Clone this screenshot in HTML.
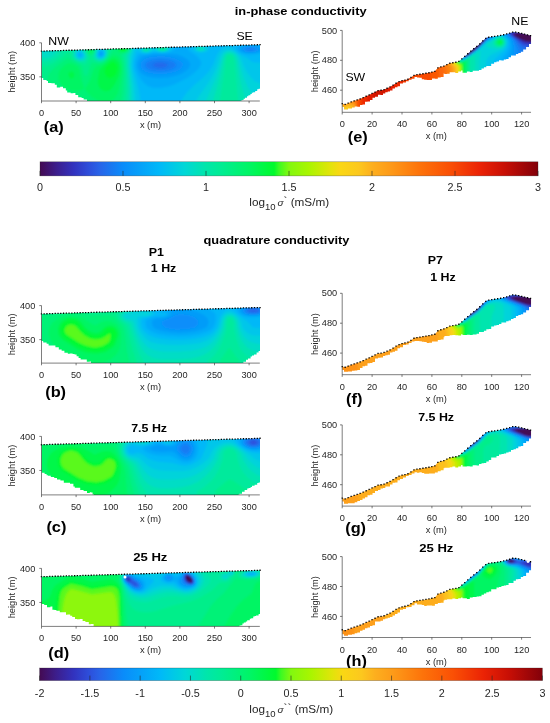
<!DOCTYPE html><html><head><meta charset="utf-8"><title>conductivity</title><style>html,body{margin:0;padding:0;background:#fff}svg{display:block}</style></head><body><svg width="550" height="723" viewBox="0 0 550 723" font-family="'Liberation Sans', sans-serif">
<rect width="550" height="723" fill="#fff"/>
<defs><filter id="blur" x="-5%" y="-5%" width="110%" height="110%"><feGaussianBlur stdDeviation="0.8"/></filter></defs>
<clipPath id="cpa"><polygon points="0.0,8.3 218.6,1.9 218.6,45.0 218.6,46.0 217.2,46.0 217.2,46.5 215.8,46.5 215.8,48.1 213.8,48.1 213.8,49.5 211.8,49.5 211.8,49.9 210.4,49.9 210.4,51.2 209.0,51.2 209.0,52.4 207.0,52.4 207.0,53.5 205.6,53.5 205.6,55.0 203.6,55.0 203.6,56.0 202.2,56.0 202.2,57.3 200.8,57.3 200.8,57.6 199.4,57.6 199.4,58.2 196.8,58.2 196.8,58.2 49.0,58.2 45.6,58.2 45.6,56.8 42.2,56.8 42.2,55.3 40.2,55.3 40.2,54.4 36.8,54.4 36.8,52.3 34.0,52.3 34.0,50.1 32.0,50.1 32.0,50.5 29.2,50.5 29.2,49.6 25.8,49.6 25.8,47.8 24.4,47.8 24.4,45.4 21.6,45.4 21.6,43.9 18.8,43.9 18.8,44.6 15.4,44.6 15.4,42.0 13.4,42.0 13.4,40.5 10.0,40.5 10.0,40.3 6.6,40.3 6.6,38.1 5.2,38.1 5.2,37.1 1.8,37.1 1.8,35.3 0.0,35.3 0.0,34.4 0.0,34.5"/></clipPath>
<g transform="translate(41.4 42.8)" clip-path="url(#cpa)">
<g filter="url(#blur)"><rect x="-7.0" y="-7.0" width="233.5" height="73.0" fill="#226beb"/>
<path fill="#167cf3" d="M-2 -2 221.5 -2 221.5 61 -2 61ZM113.5 20.5 111.6 22 112.1 23.5 116.5 25 119.5 25.1 122.5 24.7 125.6 23.5 126.2 22 124.3 20.5 121 19.8 116.5 19.8Z"/>
<path fill="#0a8efa" d="M-2 -2 221.5 -2 221.5 61 -2 61ZM110.5 17.4 106.3 19 104.6 20.5 104 22 104.2 23.5 105.3 25 107.8 26.5 110.5 27.4 116.5 28.3 124 28 130 26.5 132.9 25 134.3 23.5 134.6 22 133.9 20.5 131.9 19 127.9 17.5 119.5 16.4 115 16.6ZM206.5 5.3 205.7 5.5 204.8 7 206.5 7.5 209.5 7.8 213.1 7 212.3 5.5 209.5 5.1Z"/>
<path fill="#069cf9" d="M-2 -2 221.5 -2 221.5 61 -2 61ZM110.5 14.2 106 15.3 103 16.7 100.4 19 99.3 22 99.9 25 101.5 26.9 104.5 28.9 107.5 30 112 30.8 118 31.2 128.5 30.3 136 27.9 139 26.1 141.1 23.5 141.4 22 141 20.5 139.8 19 137.5 17.4 133 15.5 128.5 14.4 122.5 13.7 116.5 13.6ZM206.5 3.9 203.5 4.5 201.4 5.5 201.1 7 203.5 8.5 206.5 9.1 211 9.1 214.5 8.5 217.1 7 216.7 5.5 214 4.4 211 3.8Z"/>
<path fill="#03aaf9" d="M-2 -2 221.5 -2 221.5 61 -2 61ZM59.5 9.5 58.8 10 58.4 11.5 59.5 12.3 60.7 11.5 60.5 10ZM112 11.3 101.5 13.5 100 14.4 98.4 16 97 18.1 96.2 20.5 96 22 96.4 25 98.5 28.9 101.5 31.6 106 33.8 112 35 118 35.3 125.5 34.8 131.5 33.7 137.5 31.9 142.5 29.5 146.5 26.5 148.6 23.5 148.8 20.5 146.8 17.5 143.5 15 137.5 12.3 131.5 11.1ZM200.5 3.8 198.1 5.5 198.1 7 200.5 8.9 205 10.1 211 10.3 215.5 9.7 219 8.5 220.6 7 220.3 5.5 218.5 4.2 214 2.9 206.5 2.6Z"/>
<path fill="#00b8f8" d="M-2 -2 104.3 -2 103.9 -0.5 105.8 1 112 1.5 118 0.2 122.5 0 125.5 0.3 130 1.6 132.9 4 133.2 5.5 132.5 7 130.2 8.5 127 9.7 122.5 10.3 113.5 9.6 106 11.2 98.5 11.3 97 12.1 96.4 13 94.3 17.5 93.5 22 94.2 26.5 97 32.7 100 37.3 103 40.8 106 43 110.5 44.7 115 45.2 119.5 44.9 125.5 43.9 131.5 42.1 137.5 39.5 146.5 34.6 151.8 31 156.7 26.5 158.8 23.5 159.9 20.5 159.7 19 157 14.7 155.3 13 148.5 8.5 145 4.3 138.2 -2 221.5 -2 221.5 3.1 218.5 2 214 1.3 203.5 1.3 197.5 2.7 195.4 4 194.8 5.5 195.5 7 197.5 8.8 200.5 10.5 203.5 11.3 208 11.9 212.5 11.7 218.5 10.8 221.5 9.8 221.5 61 -2 61ZM38.5 10.8 37.6 11.5 38 13 38.5 13.3 39.7 13 40 11.5ZM59.5 7.9 58 8.8 57.1 11.5 58 13.3 59.5 13.7 61.2 13 62 11.5 62 10 61 8.3Z"/>
<path fill="#00c6ea" d="M-2 -2 95.7 -2 95.5 2.6 96 4 97 4.6 103 3 106 3 112 3.9 118 2 121 1.7 124 2 127 2.8 129 4 130 5.5 129.5 7 128.5 7.8 124 9.4 119.5 9.6 113.5 8.4 112 8.4 107.5 10 104.5 10.5 101.5 10.1 97 8.3 95.5 8.2 94.2 10 92 17.5 91.6 23.5 92.5 28.7 95 37 97.6 47.5 99.6 61 -2 61ZM37 9.7 35.9 11.5 36.1 13 37 14.1 38.5 14.8 40.3 14.5 41.5 13 41.5 11.5 40.5 10 38.5 9.2ZM59.5 6.8 58 7.4 57.1 8.5 56.1 11.5 56.5 13.1 58 14.5 59.5 14.8 61 14.3 62.3 13 63 11.5 63 10 62.5 8.4 61 7ZM155.5 2.5 157 2 160 1.7 164.5 2.6 166.9 4 167.8 5.5 167.4 7 165.8 8.5 163 9.6 158.5 9.8 155.5 9.3 152.5 7.5 152 7 151.7 5.5 152.6 4ZM184 4 187 3.5 190 4.7 197.5 10.6 206.8 16 211 19.1 214 19.7 221.5 19.6 221.5 61 138.8 61 140.6 56.5 146.1 49 152.1 43 163 33.6 167.5 28.6 172 21.6 174.5 14.5 176.7 10 181 5.5Z"/>
<path fill="#00d3db" d="M-2 -2 92.1 -2 92.5 7 90.7 13 89.8 22 90.2 26.5 93.2 44.5 94.3 61 -2 61ZM37 8.3 35.2 10 34.8 11.5 35.5 14 37 15.4 38.5 15.9 40 15.9 41.5 15.1 42.7 13 42.5 11.5 41.8 10 40 8.3 38.5 8ZM58 6.2 56.2 8.5 55.4 11.5 55.5 13 56.5 14.6 58 15.5 59.5 15.6 61 15.2 62.5 14 63.8 11.5 63.9 10 63.5 8.5 62.5 6.9 61 5.9 59.5 5.7ZM103.6 4 107.5 4.2 111.4 5.5 111.8 7 107.5 9.3 104.5 9.7 101.5 9.2 100 8.5 98.9 7 100 5.2 101.5 4.4ZM114.9 4 118 2.9 122.5 2.7 125.5 3.3 127 4 128.3 5.5 127.9 7 125.5 8.3 122.5 9 119.5 9 112.5 7 112.3 5.5ZM155.2 4 158.5 3.1 161.5 3.3 163.4 4 164.9 5.5 164.5 7 163 8.1 160 8.8 158.5 8.8 155.5 8 154 7 153.7 5.5ZM182.9 8.5 185.5 7.3 188.5 7.1 190 7.4 193 9 196.4 11.5 197.9 13 199.7 16 202 22.3 205 28.4 209.5 34.8 212.5 37.6 215.5 39.4 221.5 41.1 221.5 61 153.9 61 154.7 58 157.4 53.5 166 41.4 170.5 34.3 175 25 179 13 181.1 10Z"/>
<path fill="#00ddc5" d="M-2 -2 89.2 -2 89.3 1 90.9 5.5 90.9 7 88.6 13 88.2 22 90.7 44.5 91.2 61 -2 61ZM2.5 6.1 1.4 7 1.5 8.5 2.5 9.2 4 9.6 5.5 9.3 7 8.5 7.2 7 5.5 5.8 4 5.6ZM38.5 6.9 37 7.2 34.9 8.5 34 10 33.7 11.5 33.9 13 34.6 14.5 36.3 16 38.5 16.9 40 16.9 41.5 16.5 43 15.1 43.7 13 43.5 11.5 41.5 8.1 40 7.2ZM58 4.9 56 7 54.6 11.5 54.5 13 55.2 14.5 56.5 15.7 58 16.4 59.5 16.5 61 16.1 63.1 14.5 64.1 13 64.8 10 64 7.3 62.5 5.6 61 4.8 59.5 4.6ZM116.8 4 119.5 3.3 122.5 3.3 125.2 4 127 5.5 126.5 7 125.5 7.6 122.5 8.4 119.5 8.4 115.3 7 114.7 5.5ZM158.2 4 161.5 4.4 163 5.4 162.7 7 161.5 7.6 158.5 7.9 155.7 7 155.2 5.5 157 4.3ZM101.4 5.5 103 4.8 106 4.7 108.6 5.5 109.6 7 107.5 8.7 106 9.1 103 8.9 101.8 8.5 100.5 7ZM183.9 10 187 8.7 190 8.9 193 10.5 195.6 13 197 16 202 33.7 206.5 44.5 211 51.9 214 55.4 217 58 218.7 61 163.4 61 164.3 58 175 34.1 178 25.2 180.8 14.5 182.3 11.5Z"/>
<path fill="#00e5ae" d="M-2 -2 86.4 -2 86.8 1 89 4 89.7 5.5 89.8 7 89.2 8.5 87 11.5 86.5 14.5 86.7 23.5 88.5 46 88.6 61 -2 61 -2 14.1 2.5 15 5.5 14.9 8.5 14.1 10.8 13 13 11.3 14.5 9.3 15.2 7 15.1 5.5 14.4 4 11.5 1.5 8.5 0.4 5.5 -0 1 0.3 -2 1.3ZM35.5 6.5 33.4 8.5 32.7 10 32.8 13 33.4 14.5 35.5 16.6 38.5 17.9 41.5 17.8 43 17 44.5 14.8 44.8 13 43 8.5 41.5 6.7 40 6 37 5.9ZM58 3.6 56.5 4.5 55.7 5.5 53.6 13 54 14.5 55.3 16 58 17.3 59.5 17.3 62.5 16.1 64.1 14.5 65.4 11.5 65.5 8.5 64.1 5.5 62.5 4.2 61 3.5ZM118.9 4 122.5 3.9 124 4.3 125.8 5.5 125.2 7 124 7.5 119.5 7.9 116.7 7 116.1 5.5ZM103.3 5.5 106.5 5.5 108.1 7 106 8.4 104.2 8.5 103 8.1 101.8 7ZM156.8 5.5 158.5 4.9 160 5 161.4 5.5 160.4 7 158.5 7.2 157.9 7ZM184.7 11.5 187 10.2 190 10.4 192.1 11.5 194.3 14.5 195.2 17.5 197.5 30.8 199.8 41.5 205.3 61 170.7 61 178.5 34 182.4 16 183.5 13Z"/>
<path fill="#00ea9c" d="M15.4 -2 83 -2 83.2 -0.5 84 1 87.8 4 88.7 5.5 88.9 7 88 8.7 85.1 11.5 84.5 13 86.3 44.5 86 61 -2 61 -2 18.6 4 18.9 8.5 17.9 14.5 14.9 18.3 11.5 19.4 10 20.6 7 20.6 4 19 0.8ZM35.5 4.8 32.6 7 31.6 8.5 31.2 11.5 32.2 14.5 34 16.7 37 18.5 40 19.2 43 18.8 44.6 17.5 46 14.5 45.5 11.5 43 6.5 41.5 5 40 4.4 37 4.4ZM58 2 56.5 2.6 54.9 4 54 8.5 52.5 13 52.7 14.5 55 17.1 56.5 17.9 59.5 18.2 62.5 17 65 14.5 66.4 11.5 66.6 8.5 65.7 5.5 64 3.4 61 1.9ZM117.4 5.5 119.5 4.6 121 4.4 122.5 4.6 124.6 5.5 123.8 7 121 7.5 118.2 7ZM103.3 7 104.5 6.4 106.5 7 104.5 7.5ZM185.9 13 187 12.2 188.5 11.9 190 12.3 191.1 13 192.1 14.5 193 17.4 196.9 61 177.8 61 183 28 184.2 17.5 185 14.5Z"/>
<path fill="#00ee8a" d="M27 -2 76.8 -2 77.3 -0.5 78.8 1 85 3 86.6 4 87.8 5.5 88 7 86.5 9.1 82.8 11.5 82.3 13 83.5 21.2 84.1 31 83.9 49 82.9 61 -2 61 -2 23.9 1 23.9 5.5 23.1 11.5 20.6 18.7 16 26.5 9.4 28 9.8 30.4 14.5 33.1 17.5 37 19.7 41.5 21.3 43 21.7 44.5 21.4 48.1 16 48.6 14.5 45.7 10 43.9 4 43 3 41.5 2.2 38.5 1.6 35.5 1.8 31 3.3 29.5 3.3ZM58 -1 55 0.1 52.8 2.5 53.2 8.5 52 11.4 50.8 13 50.5 14.5 51.3 16 53 17.5 55 18.6 58 19.3 61 18.7 62.5 18 64.9 16 66.1 14.5 67.5 11.5 68.1 7 67.4 4 65.5 1.2 64 0.1 61 -1ZM119 5.5 121 5.1 123.1 5.5 122.5 6.2 121 6.9 119.5 6.2ZM188 17.5 188.5 16.6 189.1 17.5 188.5 20.2Z"/>
<path fill="#00f277" d="M75.9 4 79 3 83.5 3.2 86.5 4.9 87 5.5 87.2 7 85 9.3 79.4 11.5 79.4 13 80.6 16 81.7 20.5 82.3 29.5 80.8 50.5 80 55 78.3 61 15.2 61 11.5 56.1 9.2 52 7.3 47.5 5.8 41.5 5.7 37 6.2 34 7.6 31 11.4 26.5 16.7 22 23.5 17.1 26.5 15.8 28 16 34 19.8 38.1 22 39.8 23.5 40.6 25 42.3 31 43 32.5 44.5 33.3 46 32.2 46.6 31 49 22.6 50.2 20.5 52 20 58 20.6 61 19.9 62.5 19.1 66.2 16 71.5 7.7 73.5 5.5ZM46.7 5.5 47.5 4.8 49 4.4 50.5 4.8 52 6.3 52.4 8.5 51.7 10 50.5 11.3 49 11.6 47.5 10.8 46.9 10 46.1 8.5 46 7Z"/>
<path fill="#00f563" d="M79.7 4 82 3.7 85 4.6 86.1 5.5 86.4 7 85 8.5 82 9.5 79 9.5 77.5 8.9 76.2 7 76.8 5.5ZM47.8 7 49 6.4 50.5 6.7 51.1 8.5 50.5 9.7 49 10.1 47.5 8.7ZM71 13 73 12.4 76 13.7 77.5 15.3 78.8 17.5 80.1 22 80.6 26.5 80.3 31 77.2 47.5 76 51.2 74.8 53.5 73 55.9 71.5 57.1 68.5 58.6 65.5 59.2 62.5 59.2 59.5 58.6 55 56.9 49.7 53.5 46.5 50.5 43.3 46 43.8 44.5 44.5 44.3 47.5 39.6 49.3 35.5 52 27.4 53.3 25 55.2 23.5 61 21.3 64 19.5 70 13.6ZM27.6 20.5 29.5 20.5 33.3 22 35.8 23.5 37.1 25 38.2 28 40.5 38.5 42.7 44.5 42.6 46 39.7 47.5 37 48.1 34 48.3 29.5 47.8 26.5 46.9 23.5 45.3 20.8 43 18.6 40 17.3 37 16.8 34 17.5 29.5 19.2 26.5 22 23.6 25 21.5Z"/>
<path fill="#00f74a" d="M78.6 5.5 80.5 4.6 83.5 4.7 85.2 5.5 85.5 7 83.5 8.5 80.5 8.7 79 8.1 78 7ZM71.3 16 73 16 74.5 16.6 76 17.9 77.6 20.5 78.3 23.5 78.5 26.5 77.5 32.4 76 36.2 73 42.1 70 46.2 67 48.1 65.5 48.4 62.5 48.1 59.1 46 57.9 44.5 56.6 41.5 56.4 37 57.5 29.5 58.6 26.5 59.6 25 68.5 17.5ZM27.8 29.5 29.5 28.6 31 28.7 32.2 29.5 32.9 31 33.1 32.5 32.5 34.7 31 35.7 29.5 35.6 28 34.6 26.9 32.5 27 31Z"/>
<path fill="#00fa31" d="M80.3 5.5 82 5.1 83.5 5.3 84.4 7 82 7.9 80.5 7.6 79.5 7ZM68.3 20.5 70 19.6 71.5 19.3 73 19.8 75.1 22 75.9 25 75.6 28 74.5 31 73 32.9 71.5 34.2 68.5 35.1 67 34.9 65.6 34 64.3 32.5 63.6 31 63.2 28 64 25 66.4 22Z"/>
<path fill="#5af91a" d="M81.9 7 82.2 7Z"/>
</g></g>
<path d="M40.8 50.4h1.3v1.3h-1.3zM43.5 50.4h1.3v1.3h-1.3zM46.3 50.3h1.3v1.3h-1.3zM49.1 50.2h1.3v1.3h-1.3zM51.8 50.1h1.3v1.3h-1.3zM54.6 50.0h1.3v1.3h-1.3zM57.4 50.0h1.3v1.3h-1.3zM60.1 49.9h1.3v1.3h-1.3zM62.9 49.8h1.3v1.3h-1.3zM65.7 49.7h1.3v1.3h-1.3zM68.4 49.6h1.3v1.3h-1.3zM71.2 49.6h1.3v1.3h-1.3zM74.0 49.5h1.3v1.3h-1.3zM76.7 49.4h1.3v1.3h-1.3zM79.5 49.3h1.3v1.3h-1.3zM82.3 49.2h1.3v1.3h-1.3zM85.0 49.2h1.3v1.3h-1.3zM87.8 49.1h1.3v1.3h-1.3zM90.6 49.0h1.3v1.3h-1.3zM93.3 48.9h1.3v1.3h-1.3zM96.1 48.8h1.3v1.3h-1.3zM98.9 48.7h1.3v1.3h-1.3zM101.6 48.7h1.3v1.3h-1.3zM104.4 48.6h1.3v1.3h-1.3zM107.2 48.5h1.3v1.3h-1.3zM109.9 48.4h1.3v1.3h-1.3zM112.7 48.3h1.3v1.3h-1.3zM115.5 48.3h1.3v1.3h-1.3zM118.3 48.2h1.3v1.3h-1.3zM121.0 48.1h1.3v1.3h-1.3zM123.8 48.0h1.3v1.3h-1.3zM126.6 47.9h1.3v1.3h-1.3zM129.3 47.9h1.3v1.3h-1.3zM132.1 47.8h1.3v1.3h-1.3zM134.9 47.7h1.3v1.3h-1.3zM137.6 47.6h1.3v1.3h-1.3zM140.4 47.5h1.3v1.3h-1.3zM143.2 47.5h1.3v1.3h-1.3zM145.9 47.4h1.3v1.3h-1.3zM148.7 47.3h1.3v1.3h-1.3zM151.5 47.2h1.3v1.3h-1.3zM154.2 47.1h1.3v1.3h-1.3zM157.0 47.0h1.3v1.3h-1.3zM159.8 47.0h1.3v1.3h-1.3zM162.5 46.9h1.3v1.3h-1.3zM165.3 46.8h1.3v1.3h-1.3zM168.1 46.7h1.3v1.3h-1.3zM170.8 46.6h1.3v1.3h-1.3zM173.6 46.6h1.3v1.3h-1.3zM176.4 46.5h1.3v1.3h-1.3zM179.1 46.4h1.3v1.3h-1.3zM181.9 46.3h1.3v1.3h-1.3zM184.7 46.2h1.3v1.3h-1.3zM187.5 46.2h1.3v1.3h-1.3zM190.2 46.1h1.3v1.3h-1.3zM193.0 46.0h1.3v1.3h-1.3zM195.8 45.9h1.3v1.3h-1.3zM198.5 45.8h1.3v1.3h-1.3zM201.3 45.8h1.3v1.3h-1.3zM204.1 45.7h1.3v1.3h-1.3zM206.8 45.6h1.3v1.3h-1.3zM209.6 45.5h1.3v1.3h-1.3zM212.4 45.4h1.3v1.3h-1.3zM215.1 45.3h1.3v1.3h-1.3zM217.9 45.3h1.3v1.3h-1.3zM220.7 45.2h1.3v1.3h-1.3zM223.4 45.1h1.3v1.3h-1.3zM226.2 45.0h1.3v1.3h-1.3zM229.0 44.9h1.3v1.3h-1.3zM231.7 44.9h1.3v1.3h-1.3zM234.5 44.8h1.3v1.3h-1.3zM237.3 44.7h1.3v1.3h-1.3zM240.0 44.6h1.3v1.3h-1.3zM242.8 44.5h1.3v1.3h-1.3zM245.6 44.5h1.3v1.3h-1.3zM248.3 44.4h1.3v1.3h-1.3zM251.1 44.3h1.3v1.3h-1.3zM253.9 44.2h1.3v1.3h-1.3zM256.7 44.1h1.3v1.3h-1.3zM259.4 44.0h1.3v1.3h-1.3z" fill="#000"/>
<clipPath id="cpb"><polygon points="0.0,8.3 218.6,1.9 218.6,45.0 218.6,45.4 217.2,45.4 217.2,47.0 215.2,47.0 215.2,49.0 212.6,49.0 212.6,49.9 210.6,49.9 210.6,50.9 209.2,50.9 209.2,52.8 206.6,52.8 206.6,54.2 204.6,54.2 204.6,56.2 202.0,56.2 202.0,57.5 199.4,57.5 199.4,57.5 53.0,57.5 49.6,57.5 49.6,55.8 48.2,55.8 48.2,56.1 45.4,56.1 45.4,53.9 42.6,53.9 42.6,53.8 39.2,53.8 39.2,52.4 37.2,52.4 37.2,50.6 35.2,50.6 35.2,48.9 33.2,48.9 33.2,48.3 31.2,48.3 31.2,48.0 28.4,48.0 28.4,48.1 26.4,48.1 26.4,47.2 23.0,47.2 23.0,45.2 20.2,45.2 20.2,44.0 17.4,44.0 17.4,41.7 14.0,41.7 14.0,39.8 10.6,39.8 10.6,39.8 7.2,39.8 7.2,38.2 5.2,38.2 5.2,36.9 1.8,36.9 1.8,35.5 0.0,35.5 0.0,35.1 0.0,34.5"/></clipPath>
<g transform="translate(41.4 305.6)" clip-path="url(#cpb)">
<g filter="url(#blur)"><rect x="-7.0" y="-7.0" width="233.5" height="73.0" fill="#2a5be3"/>
<path fill="#2568ea" d="M-2 -2 221.5 -2 221.5 61 -2 61ZM211 4.8 210.3 5.5 213.7 5.5 212.5 4.6Z"/>
<path fill="#167cf3" d="M-2 -2 221.5 -2 221.5 61 -2 61ZM208 3.4 206.7 4 206.2 5.5 209.1 7 214 7.1 215.5 6.8 217.7 5.5 217.2 4 214 2.9 211 2.8Z"/>
<path fill="#0a8efa" d="M-2 -2 221.5 -2 221.5 61 -2 61ZM208 2.1 206.5 2.5 203.9 4 203.6 5.5 205.2 7 206.5 7.5 209.5 8.1 214 8.2 218.5 7.1 220.3 5.5 220 4 217 2.4 212.5 1.7Z"/>
<path fill="#069cf9" d="M-2 -2 221.5 -2 221.5 3.1 220 2.2 217 1.3 214 0.8 209.5 0.9 206.5 1.4 203.2 2.5 201.4 4 201.1 5.5 202.4 7 203.5 7.6 206.5 8.7 209.5 9.2 214 9.2 217 8.8 221.5 7 221.5 61 -2 61ZM134.5 9.5 128.5 12.6 123.5 14.5 120.9 16 120.4 17.5 120.8 19 122 20.5 123.9 22 130 23.3 134.5 23.8 145 23.6 153.3 22 155.3 20.5 156.5 19 157 17.5 156.9 16 156.2 14.5 154 12.5 151 10.9 146.5 9.5 142 8.9 137.5 8.8Z"/>
<path fill="#03aaf9" d="M-2 -2 221.5 -2 221.5 1.3 218.5 0.3 214 -0.2 206.5 0.1 203 1 199.9 2.5 198.6 4 198.5 5.5 199.5 7 201.8 8.5 205 9.6 208 10.1 215.5 10.1 221.5 8.8 221.5 61 -2 61ZM131.5 3.7 130 4.4 129.4 5.5 129.2 8.5 128.1 10 127 10.7 122.5 12.3 114.8 13 111.5 14.5 110.6 16 110.5 17.5 111.4 20.5 112.2 22 115 23.4 121 25.3 128.5 26.7 137.5 27.3 145 27 154 25.7 161.4 23.5 164.9 22 166.6 19 167.1 16 166 13 163 9.9 157 6.6 151 4.6 145 3.6 137.5 3.2Z"/>
<path fill="#00b8f8" d="M-2 -2 113.3 -2 111.6 -0.5 110.7 1 111.4 2.5 113.8 4 116.5 5.1 124 6.5 124.9 7 125.7 8.5 124.5 10 122.5 10.7 113.5 10.9 106 13.5 104.5 14.5 104.1 16 104.3 19 105 22 107.5 24.2 110.5 26.1 116.5 28.3 125.5 29.9 137.5 30.6 148 30.1 158.5 28.4 166 25.9 169 24.3 171.9 22 173.5 17.9 174.2 14.5 174.5 11.5 174 8.5 172 6.3 167.5 3.2 157 -2 221.5 -2 221.5 -0.6 217 -1.5 212.5 -1.8 208 -1.6 203.5 -0.9 197.9 1 195.9 2.5 195.1 4 195.5 5.5 197.5 7.7 200.5 9.7 203.5 10.9 208 11.6 212.5 11.8 221.5 10.7 221.5 61 -2 61Z"/>
<path fill="#00c6ea" d="M-2 -2 101 -2 101 1 101.8 2.5 111 5.5 113.3 7 113.6 8.5 109 10.7 101.5 12.6 100.6 13 100 13.8 99.5 16 100.4 22 103 25.6 107.5 29.4 113.5 32 121 33.5 131.5 34.4 142 34.4 152.5 33.5 161.5 31.7 167.5 29.4 172 26.3 175.6 22 178.7 11.5 181 7.8 184 5 185.5 4.3 188.5 4.2 190 4.6 193 6.5 206 16 209.1 19 211.4 22 221.5 22.1 221.5 61 -2 61Z"/>
<path fill="#00d3db" d="M-2 -2 96 -2 96.2 2.5 97 4.1 100 5.1 106 5.6 109.7 7 109.9 8.5 107.5 9.7 104.5 10.3 98.5 10.7 96.7 11.5 95.7 13 96.9 22 100.2 28 104.5 32.9 107.5 35.1 110.5 36.6 116.5 38.2 125.5 39.1 137.5 39.3 149.5 38.6 158.5 37.3 166 34.7 169 33 172 30.6 176.5 25.2 178.2 22 180.5 13 182.2 10 185.5 7.6 187 7.2 190 7.3 191.5 7.8 194.5 9.7 197.8 13 200 17.5 201.2 22 203.5 25 206.5 27.6 209.5 29.1 212.5 29.8 221.5 30.4 221.5 61 -2 61Z"/>
<path fill="#00ddc5" d="M-2 -2 92.3 -2 92.3 2.5 91.8 5.5 91 6.5 90.1 7 84 8.5 82.8 10 83 11.5 85 13.2 90.6 14.5 92.2 16 93.4 19 94 22 97 29.1 100 34.4 104.5 39.8 107.5 42.1 112 44.2 116.5 45.2 122.5 45.8 137.5 45.9 151 44.9 160 43 166 40.3 172 35.6 176.8 29.5 180.4 22 181.9 14.5 183.3 11.5 184.7 10 187 8.9 190 8.9 193 10.4 195.4 13 196.7 16 198 22 199 24.5 202 29.8 205 33.3 208 35.6 212.5 37.5 217 38.3 221.5 38.6 221.5 61 -2 61ZM102.8 8.5 104.5 7.9 105.1 8.5Z"/>
<path fill="#00e5ae" d="M-2 -2 88.9 -2 88.9 1 88 3.4 86.5 4.7 82.3 7 80.8 8.5 80.4 10 80.6 11.5 81.5 13 83.4 14.5 88 16.5 89.5 17.7 90.3 19 93.8 29.5 97 36.9 100 42.5 103 46.6 106 49.4 110.5 51.9 115 53.1 121 53.8 136 53.9 149.5 52.9 158.5 50.9 163 49 166 47.2 172 42.1 175 38.3 178 33.5 181.7 25 182.6 22 183.4 16 184.4 13 185.5 11.5 187 10.6 188.5 10.3 190 10.5 191.9 11.5 194 14.5 194.9 17.5 195.4 22 197.5 29 200.5 35.4 203.5 39.5 206.5 42.3 211 44.8 215.5 46.1 221.5 46.8 221.5 61 -2 61Z"/>
<path fill="#00ea9c" d="M-2 -2 85.1 -2 84.9 1 84.1 2.5 79.1 7 78.3 8.5 78.6 11.5 80.5 14.3 86.5 18.6 87.8 20.5 95.5 43.5 98.5 49.8 102.2 55 102.8 61 -2 61ZM187.1 13 188.5 12.5 190 12.8 191.6 14.5 192.5 17.5 192.5 22 193.3 26.5 195.1 34 197.5 40.3 200.5 45.4 205 49.9 209.5 52.4 215.5 54.2 221.5 55 221.5 61 165.7 61 166.6 55 170.5 52 173.5 48.9 176.7 44.5 179.9 38.5 183.8 28 185.2 22 185.5 16.3Z"/>
<path fill="#00ee8a" d="M-2 -2 79 -2 78.7 1 75.3 7 75.2 8.5 76.3 11.5 78.2 14.5 83.3 19 85.2 22 86.6 26.5 91.2 44.5 95.1 55 95.7 61 -2 61ZM187 43 188.5 42.7 190 44.2 194.1 50.5 198.2 55 197.5 58 197.8 61 178.6 61 178.9 58 178.3 55Z"/>
<path fill="#00f277" d="M24.5 5.5 28 4.8 32.5 5 43.7 8.5 52 9.7 68.5 9.7 71.5 10.7 73 11.9 80.8 20.5 82.8 25 84 31 85.7 46 87.8 55 88.2 61 -2 61 -2 10.2 7 9.7 15.7 8.5Z"/>
<path fill="#00f563" d="M28.3 10 34 10.3 40 11.9 43 13.3 50.5 18.3 53.5 19.7 55 19.3 59.5 16.6 62.5 15.7 65.5 15.2 70 15.8 74.5 18.5 76.5 20.5 78.4 23.5 79.4 26.5 79.9 31 78.8 40 78.1 43 76.8 46 74.5 49.4 68.5 54.4 64 56.4 55 58.2 46 57.4 41.5 56.4 31 52.3 17.5 43.8 14.5 41.5 10.5 37 8.3 32.5 7.5 29.5 7.3 26.5 8.1 22 10.8 17.5 14.4 14.5 20.6 11.5 25 10.4Z"/>
<path fill="#00f74a" d="M25.3 13 28 12.4 31 12.3 35.5 13.5 39.3 16 44.5 22.3 47.4 25 50.5 26.5 53.5 27.3 56.5 27.1 58 26.5 59.5 25.4 62.6 22 65.5 20.3 67 19.9 70 19.9 73 21.2 74.5 22.5 76 24.6 77.1 28 76.9 31 73.5 40 71.5 42.2 64 46.6 55 48.5 44.5 47.1 35.5 43.7 20.7 34 18.2 31 16.9 28 16.5 23.5 17.8 19 20.5 15.7 23.5 13.7Z"/>
<path fill="#00fa31" d="M27.6 14.5 31.8 14.5 35.5 15.9 37.5 17.5 43 24.4 46 27.2 50.5 29.4 53.5 30.1 56.5 29.8 59.5 28.7 61 27.7 64 24.1 65.5 23 68.5 22.1 71.5 22.9 73 24 74.5 26.2 74.9 29.5 73 35.5 71.6 38.5 70 40.2 62.5 44.3 55 45.7 46 44.7 37 41.3 23.5 32.8 21.6 31 19.8 28 19.2 23.5 20.5 19.3 21.9 17.5 23.5 16.1Z"/>
<path fill="#5af91a" d="M25.4 20.5 28 19.2 29.5 19 32.5 19.6 34 20.5 39.3 26.5 43 29.9 49 33.2 53.5 34 59.5 33.3 62.5 32 68.5 27.8 69.3 29.5 68 35.5 66.7 37 62 40 56.3 41.5 53.5 41.8 50.7 41.5 44.3 40 37.4 37 25 28.7 23.6 26.5 23.4 25 23.5 23.4Z"/>
</g></g>
<path d="M40.8 313.3h1.3v1.3h-1.3zM43.5 313.2h1.3v1.3h-1.3zM46.3 313.1h1.3v1.3h-1.3zM49.1 313.0h1.3v1.3h-1.3zM51.8 312.9h1.3v1.3h-1.3zM54.6 312.8h1.3v1.3h-1.3zM57.4 312.8h1.3v1.3h-1.3zM60.1 312.7h1.3v1.3h-1.3zM62.9 312.6h1.3v1.3h-1.3zM65.7 312.5h1.3v1.3h-1.3zM68.4 312.4h1.3v1.3h-1.3zM71.2 312.4h1.3v1.3h-1.3zM74.0 312.3h1.3v1.3h-1.3zM76.7 312.2h1.3v1.3h-1.3zM79.5 312.1h1.3v1.3h-1.3zM82.3 312.0h1.3v1.3h-1.3zM85.0 312.0h1.3v1.3h-1.3zM87.8 311.9h1.3v1.3h-1.3zM90.6 311.8h1.3v1.3h-1.3zM93.3 311.7h1.3v1.3h-1.3zM96.1 311.6h1.3v1.3h-1.3zM98.9 311.5h1.3v1.3h-1.3zM101.6 311.5h1.3v1.3h-1.3zM104.4 311.4h1.3v1.3h-1.3zM107.2 311.3h1.3v1.3h-1.3zM109.9 311.2h1.3v1.3h-1.3zM112.7 311.1h1.3v1.3h-1.3zM115.5 311.1h1.3v1.3h-1.3zM118.3 311.0h1.3v1.3h-1.3zM121.0 310.9h1.3v1.3h-1.3zM123.8 310.8h1.3v1.3h-1.3zM126.6 310.7h1.3v1.3h-1.3zM129.3 310.7h1.3v1.3h-1.3zM132.1 310.6h1.3v1.3h-1.3zM134.9 310.5h1.3v1.3h-1.3zM137.6 310.4h1.3v1.3h-1.3zM140.4 310.3h1.3v1.3h-1.3zM143.2 310.3h1.3v1.3h-1.3zM145.9 310.2h1.3v1.3h-1.3zM148.7 310.1h1.3v1.3h-1.3zM151.5 310.0h1.3v1.3h-1.3zM154.2 309.9h1.3v1.3h-1.3zM157.0 309.8h1.3v1.3h-1.3zM159.8 309.8h1.3v1.3h-1.3zM162.5 309.7h1.3v1.3h-1.3zM165.3 309.6h1.3v1.3h-1.3zM168.1 309.5h1.3v1.3h-1.3zM170.8 309.4h1.3v1.3h-1.3zM173.6 309.4h1.3v1.3h-1.3zM176.4 309.3h1.3v1.3h-1.3zM179.1 309.2h1.3v1.3h-1.3zM181.9 309.1h1.3v1.3h-1.3zM184.7 309.0h1.3v1.3h-1.3zM187.5 309.0h1.3v1.3h-1.3zM190.2 308.9h1.3v1.3h-1.3zM193.0 308.8h1.3v1.3h-1.3zM195.8 308.7h1.3v1.3h-1.3zM198.5 308.6h1.3v1.3h-1.3zM201.3 308.6h1.3v1.3h-1.3zM204.1 308.5h1.3v1.3h-1.3zM206.8 308.4h1.3v1.3h-1.3zM209.6 308.3h1.3v1.3h-1.3zM212.4 308.2h1.3v1.3h-1.3zM215.1 308.1h1.3v1.3h-1.3zM217.9 308.1h1.3v1.3h-1.3zM220.7 308.0h1.3v1.3h-1.3zM223.4 307.9h1.3v1.3h-1.3zM226.2 307.8h1.3v1.3h-1.3zM229.0 307.7h1.3v1.3h-1.3zM231.7 307.7h1.3v1.3h-1.3zM234.5 307.6h1.3v1.3h-1.3zM237.3 307.5h1.3v1.3h-1.3zM240.0 307.4h1.3v1.3h-1.3zM242.8 307.3h1.3v1.3h-1.3zM245.6 307.3h1.3v1.3h-1.3zM248.3 307.2h1.3v1.3h-1.3zM251.1 307.1h1.3v1.3h-1.3zM253.9 307.0h1.3v1.3h-1.3zM256.7 306.9h1.3v1.3h-1.3zM259.4 306.9h1.3v1.3h-1.3z" fill="#000"/>
<clipPath id="cpc"><polygon points="0.0,8.3 218.6,1.9 218.6,45.0 218.6,46.0 217.2,46.0 217.2,46.7 215.8,46.7 215.8,48.3 213.2,48.3 213.2,49.4 210.6,49.4 210.6,50.7 209.2,50.7 209.2,51.7 207.2,51.7 207.2,52.2 205.8,52.2 205.8,53.7 203.2,53.7 203.2,55.3 200.6,55.3 200.6,57.4 198.0,57.4 198.0,58.4 196.6,58.4 196.6,58.5 194.0,58.5 194.0,58.5 54.0,58.5 52.6,58.5 52.6,58.0 51.2,58.0 51.2,56.1 49.8,56.1 49.8,55.9 48.4,55.9 48.4,56.6 45.6,56.6 45.6,54.5 42.2,54.5 42.2,53.6 38.8,53.6 38.8,51.3 35.4,51.3 35.4,51.3 33.4,51.3 33.4,50.2 32.0,50.2 32.0,47.4 28.6,47.4 28.6,46.4 25.2,46.4 25.2,46.4 22.4,46.4 22.4,44.2 19.0,44.2 19.0,43.2 15.6,43.2 15.6,41.7 12.8,41.7 12.8,40.7 11.4,40.7 11.4,40.6 9.4,40.6 9.4,39.3 6.6,39.3 6.6,38.8 5.2,38.8 5.2,37.5 3.2,37.5 3.2,36.4 0.4,36.4 0.4,34.3 0.0,34.3 0.0,34.7 0.0,34.5"/></clipPath>
<g transform="translate(41.4 436.4)" clip-path="url(#cpc)">
<g filter="url(#blur)"><rect x="-7.0" y="-7.0" width="233.5" height="73.0" fill="#2d51dd"/>
<path fill="#2568ea" d="M-2 -2 221.5 -2 221.5 61 -2 61ZM211 4 208.4 5.5 208.9 7 211 7.9 212.5 8 215.3 7 215.5 5.3 213 4Z"/>
<path fill="#167cf3" d="M-2 -2 221.5 -2 221.5 61 -2 61ZM211 2.4 209.5 2.7 206.7 4 205.7 5.5 206.1 7 207.8 8.5 211 9.4 214 9.3 216.6 8.5 218.2 7 218.4 5.5 217 3.8 214 2.6Z"/>
<path fill="#0a8efa" d="M-2 -2 221.5 -2 221.5 61 -2 61ZM142 8.2 139.8 10 139.2 11.5 139.3 13 140 14.5 142 16.6 143.5 17.3 145 17.4 146.5 16.8 148.4 14.5 148.6 11.5 148.1 10 146.5 8.3 145 7.8ZM206.5 2.3 204.2 4 203.6 5.5 203.9 7 205.2 8.5 208 10 211 10.6 215.5 10.4 218.5 9.1 220.5 7 220.6 5.5 219.9 4 217 2.1 214 1.3 211 1.2Z"/>
<path fill="#069cf9" d="M-2 -2 221.5 -2 221.5 3.2 220 2 217 0.7 214 0.1 209.5 0.2 206.5 0.8 203.5 2.4 202 4 201.6 5.5 202 7 203.5 8.8 206.5 10.6 209.5 11.5 212.5 11.9 216 11.5 218.5 10.8 221.5 8.8 221.5 61 -2 61ZM142 5.3 139 7 135.9 10 135.2 11.5 135.5 13 137.5 16 140.6 19 143.5 20.3 146.5 20.1 148.4 19 150.6 16 151.3 13 150.9 10 149.5 7.4 147 5.5 145 4.9Z"/>
<path fill="#03aaf9" d="M-2 -2 221.5 -2 221.5 1 218.5 -0.3 214 -1.2 209.5 -1.2 205 -0.2 202.5 1 200.6 2.5 199.7 4 199.5 5.5 200 7 202 9.2 205 11.2 208 12.4 212.5 13.1 215.5 12.9 218.5 12.3 221.5 11 221.5 61 -2 61ZM142 2.3 139 3.7 134.5 7.8 131.5 9.5 128.5 9.9 125.5 9.9 116.5 8.3 114.8 8.5 110.5 10 108.3 11.5 109 13.1 111.9 14.5 115 15.2 121 15.5 128.5 15 131.5 15.4 134.5 17.2 139.9 22 143.5 23.1 146.5 23 149.5 21.8 151.9 19 153.6 14.5 153.5 10 152.4 7 149.5 3.7 146.5 2.3 145 2Z"/>
<path fill="#00b8f8" d="M-2 -2 142 -2 139 -1 135.6 1 134.4 2.5 133.7 5.5 132.4 7 130 8.1 127 8.5 124 8.3 121 7.5 118 6.1 116.5 5.8 115 6 110.5 8.2 104.9 10 102 11.5 102.1 13 103.6 14.5 106 16 110.5 17.9 116.5 19 127 19.3 130 19.8 139 24.7 142 25.6 145 25.8 149.5 24.8 153.8 22 156.1 17.5 157 13 156.5 8.5 154.5 4 151 0.1 148 -1.6 146.5 -2 204.8 -2 200.5 -0.2 198.7 1 197.5 2.5 196.9 4 197.1 5.5 199.2 8.5 203.5 11.7 209.5 14.1 215.5 14.5 218.5 14.1 221.5 13.2 221.5 61 -2 61ZM219.1 -2 221.5 -2 221.5 -1.2Z"/>
<path fill="#00c6ea" d="M-2 -2 105.2 -2 105 -0.5 105.9 1 110.5 3.5 111 4 111.4 5.5 109 7.4 103 9.1 98.5 9.6 92.5 8.7 89.5 8.8 87.6 10 86.5 11.7 86.5 14.5 88 16.5 91 17.5 95.5 16.6 98.5 16.6 102.9 19 106.4 22 113.5 24.6 118 25.4 130 26.3 139 28.7 143.5 29.3 148 28.7 151 27.7 155.5 25.2 159.8 22 165.5 8.5 165.8 5.5 165.3 -2 196.1 -2 194.1 -0.5 193 1 192.5 2.5 192.9 4 195.3 7 200.5 11.2 205 14 211 16.2 217 17 221.5 16.4 221.5 61 -2 61ZM122 4 124 3.1 127 3 130 3.9 130.8 5.5 128.5 7.2 124 7.1 121.3 5.5Z"/>
<path fill="#00d3db" d="M-2 -2 97.5 -2 97.3 1 98.5 2 106 3.5 107.5 4.3 108.6 5.5 107.1 7 103 7.9 98.5 7.9 92.5 6.1 91 6.1 88 7 86.1 8.5 84.6 11.5 84.6 14.5 86.2 17.5 88 19 89.5 19.6 97 21.2 100.4 23.5 106 29 110.5 31.9 116.5 33.7 124 34.4 142 34.6 148 33.7 152.5 32.2 160 28 167.2 22 170.8 14.5 173.1 11.5 175 9.9 178 8 182.5 6.3 187 5.9 190 6.4 193 7.6 196 9.5 203.5 15.1 209.5 19 212.6 22 217 24.1 221.5 25.5 221.5 61 -2 61Z"/>
<path fill="#00ddc5" d="M-2 -2 93 -2 91.9 1 90.7 2.5 85.1 7 83.5 9.6 82.9 13 83.5 15.9 84.3 17.5 85.5 19 88 21 93.7 23.5 96.1 25 98.6 28 103 34.7 107.5 39.1 110.5 40.9 113.5 42 118 42.8 122.5 43.2 131.5 43.2 140.5 42.4 148 40.8 154 38.5 161.5 33.8 167.5 28.2 172.4 22 174.5 16 176.3 13 177.7 11.5 181 9.5 184 8.5 188.5 8.2 191.5 8.9 196 11.3 201.4 16 204.1 19 205.7 22 211 27.4 215.5 30.5 221.5 33.2 221.5 61 -2 61ZM98.4 5.5 101.5 4.6 103 4.7 105.4 5.5 103 6.6 101.5 6.7Z"/>
<path fill="#00e5ae" d="M-2 -2 89.4 -2 88 1 83.5 6.2 82 9.1 81.6 11.5 81.7 14.5 83.5 18.8 86.5 22.1 91.1 25 94.4 28 101.5 41.8 106 47.1 109 49.2 112 50.5 116.5 51.6 121 52 131.5 51.9 142 50.6 149.5 48.5 157 45 164.5 39.4 170.5 32.6 173.5 28.1 176.5 22.6 177.7 17.5 180.1 13 181.9 11.5 184 10.5 187 9.9 190 10.2 193 11.3 194.5 12.3 198.2 16 200 19 200.8 22 203.5 26.7 206.5 30.9 209.4 34 215.5 38.5 221.5 41.2 221.5 61 -2 61Z"/>
<path fill="#00ea9c" d="M-2 -2 86.2 -2 84.8 1 81.8 5.5 80.4 8.5 80.1 13 80.7 16 82 19 83.5 21.2 89.3 26.5 91.8 29.5 98.5 46.3 101.5 51.5 104.4 55 105 61 -2 61ZM184.6 13 187 12.2 188.5 12.1 191.5 12.9 193.4 14.5 195.3 17.5 195.9 22 198.4 29.5 200.6 34 203.5 38.2 206.6 41.5 211 45 215.5 47.5 221.5 49.9 221.5 61 154.3 61 155.2 58 155.5 55 161.5 51.5 166 48 170.5 43.5 174.3 38.5 177.6 32.5 180 26.5 181.5 22 181.5 19 182.2 16 183 14.5Z"/>
<path fill="#00ee8a" d="M-2 -2 82.6 -2 78.6 7 78.3 10 78.8 14.5 79.7 17.5 81.2 20.5 87.4 28 89.9 32.5 94 46.3 97.5 55 98 61 -2 61ZM185.3 44.5 187 43.5 188.5 43.2 190 43.4 193 45 202 51.6 208.3 55 207.5 58 208.2 61 173.7 61 174.1 58 173.1 55Z"/>
<path fill="#00f277" d="M-2 -2 77.5 -2 75.4 7 75.5 8.5 77 14.5 78.7 19 85.4 29.5 86.6 32.5 90 47.5 92.2 55 92.7 61 -2 61Z"/>
<path fill="#00f563" d="M24.6 1 31 0.4 37 1.6 41.5 3.6 45.9 7 50.8 8.5 53.5 8.8 65.5 8.6 68.5 9 71.5 10.1 73 11.7 74.5 14.4 81.6 28 82.8 31 83.6 35.5 86.2 61 -2 61 -2 9.1 8.1 8.5 13 7.1 19 3Z"/>
<path fill="#00f74a" d="M23.2 10 31 9.3 38.5 10.6 44.5 13 53.5 18.4 59.5 15.5 64 14.5 68.5 14.9 71.5 16.6 74.5 19.9 76.9 23.5 78.4 26.5 79.4 31 79 37 77.9 43 76.1 47.5 74.5 50 70 54.7 65.5 57.6 56.5 59.9 52 60.1 43 58.9 32.5 55.2 29.5 53.7 14.5 44.1 10.3 40 8.2 37 6.8 34 5.8 31 5.4 28 5.8 23.5 7.8 19 10.5 16 12.4 14.5 18.1 11.5Z"/>
<path fill="#00fa31" d="M24.4 13 29.5 12 32.5 12.3 35.5 13.2 39.8 16 44.8 22 47.5 24.5 51.6 26.5 53.5 26.9 56.5 26.7 58 26 62.5 21.6 65.5 19.9 68.5 19.6 71.5 20.6 74.7 23.5 76 25.9 76.6 28 76.7 31 73.6 40 71.5 42.5 64 47 55 48.8 46 47.9 35.5 44.1 20.5 34.4 18.8 32.5 17 29.5 16.1 25 16.7 20.5 18.3 17.5 19.6 16 22 14.1Z"/>
<path fill="#5af91a" d="M28.3 14.5 31.1 14.5 35.5 16 37.4 17.5 42.1 23.5 45 26.5 49 28.8 52 29.9 55 30.2 59.5 28.8 61 27.8 65 23.5 67 22.6 68.5 22.5 71.5 23.5 73 25 73.7 26.5 74.3 29.5 73 34.5 71.5 38.1 69.9 40 62.5 44.1 55 45.6 46 44.6 37 41.2 23.3 32.5 21.7 31 19.9 28 19.3 23.5 20.5 19.5 22 17.5 24 16Z"/>
</g></g>
<path d="M40.8 444.1h1.3v1.3h-1.3zM43.5 444.0h1.3v1.3h-1.3zM46.3 443.9h1.3v1.3h-1.3zM49.1 443.8h1.3v1.3h-1.3zM51.8 443.7h1.3v1.3h-1.3zM54.6 443.6h1.3v1.3h-1.3zM57.4 443.6h1.3v1.3h-1.3zM60.1 443.5h1.3v1.3h-1.3zM62.9 443.4h1.3v1.3h-1.3zM65.7 443.3h1.3v1.3h-1.3zM68.4 443.2h1.3v1.3h-1.3zM71.2 443.2h1.3v1.3h-1.3zM74.0 443.1h1.3v1.3h-1.3zM76.7 443.0h1.3v1.3h-1.3zM79.5 442.9h1.3v1.3h-1.3zM82.3 442.8h1.3v1.3h-1.3zM85.0 442.8h1.3v1.3h-1.3zM87.8 442.7h1.3v1.3h-1.3zM90.6 442.6h1.3v1.3h-1.3zM93.3 442.5h1.3v1.3h-1.3zM96.1 442.4h1.3v1.3h-1.3zM98.9 442.3h1.3v1.3h-1.3zM101.6 442.3h1.3v1.3h-1.3zM104.4 442.2h1.3v1.3h-1.3zM107.2 442.1h1.3v1.3h-1.3zM109.9 442.0h1.3v1.3h-1.3zM112.7 441.9h1.3v1.3h-1.3zM115.5 441.9h1.3v1.3h-1.3zM118.3 441.8h1.3v1.3h-1.3zM121.0 441.7h1.3v1.3h-1.3zM123.8 441.6h1.3v1.3h-1.3zM126.6 441.5h1.3v1.3h-1.3zM129.3 441.5h1.3v1.3h-1.3zM132.1 441.4h1.3v1.3h-1.3zM134.9 441.3h1.3v1.3h-1.3zM137.6 441.2h1.3v1.3h-1.3zM140.4 441.1h1.3v1.3h-1.3zM143.2 441.1h1.3v1.3h-1.3zM145.9 441.0h1.3v1.3h-1.3zM148.7 440.9h1.3v1.3h-1.3zM151.5 440.8h1.3v1.3h-1.3zM154.2 440.7h1.3v1.3h-1.3zM157.0 440.6h1.3v1.3h-1.3zM159.8 440.6h1.3v1.3h-1.3zM162.5 440.5h1.3v1.3h-1.3zM165.3 440.4h1.3v1.3h-1.3zM168.1 440.3h1.3v1.3h-1.3zM170.8 440.2h1.3v1.3h-1.3zM173.6 440.2h1.3v1.3h-1.3zM176.4 440.1h1.3v1.3h-1.3zM179.1 440.0h1.3v1.3h-1.3zM181.9 439.9h1.3v1.3h-1.3zM184.7 439.8h1.3v1.3h-1.3zM187.5 439.8h1.3v1.3h-1.3zM190.2 439.7h1.3v1.3h-1.3zM193.0 439.6h1.3v1.3h-1.3zM195.8 439.5h1.3v1.3h-1.3zM198.5 439.4h1.3v1.3h-1.3zM201.3 439.4h1.3v1.3h-1.3zM204.1 439.3h1.3v1.3h-1.3zM206.8 439.2h1.3v1.3h-1.3zM209.6 439.1h1.3v1.3h-1.3zM212.4 439.0h1.3v1.3h-1.3zM215.1 438.9h1.3v1.3h-1.3zM217.9 438.9h1.3v1.3h-1.3zM220.7 438.8h1.3v1.3h-1.3zM223.4 438.7h1.3v1.3h-1.3zM226.2 438.6h1.3v1.3h-1.3zM229.0 438.5h1.3v1.3h-1.3zM231.7 438.5h1.3v1.3h-1.3zM234.5 438.4h1.3v1.3h-1.3zM237.3 438.3h1.3v1.3h-1.3zM240.0 438.2h1.3v1.3h-1.3zM242.8 438.1h1.3v1.3h-1.3zM245.6 438.1h1.3v1.3h-1.3zM248.3 438.0h1.3v1.3h-1.3zM251.1 437.9h1.3v1.3h-1.3zM253.9 437.8h1.3v1.3h-1.3zM256.7 437.7h1.3v1.3h-1.3zM259.4 437.6h1.3v1.3h-1.3z" fill="#000"/>
<clipPath id="cpd"><polygon points="0.0,8.3 218.6,1.9 218.6,45.0 218.6,45.6 217.2,45.6 217.2,47.1 214.6,47.1 214.6,47.5 213.2,47.5 213.2,48.2 211.8,48.2 211.8,49.8 209.8,49.8 209.8,50.4 208.4,50.4 208.4,51.8 205.8,51.8 205.8,53.1 204.4,53.1 204.4,54.0 202.4,54.0 202.4,55.2 201.0,55.2 201.0,56.8 199.0,56.8 199.0,57.3 197.6,57.3 197.6,58.0 195.6,58.0 195.6,58.0 55.0,58.0 52.2,58.0 52.2,55.5 49.4,55.5 49.4,55.8 47.4,55.8 47.4,53.7 44.0,53.7 44.0,52.5 41.2,52.5 41.2,50.6 38.4,50.6 38.4,50.9 35.6,50.9 35.6,50.5 33.6,50.5 33.6,48.5 30.8,48.5 30.8,47.4 28.8,47.4 28.8,46.1 26.0,46.1 26.0,46.4 24.6,46.4 24.6,43.9 21.2,43.9 21.2,43.9 18.4,43.9 18.4,42.4 15.0,42.4 15.0,41.5 13.0,41.5 13.0,41.4 11.0,41.4 11.0,38.2 9.0,38.2 9.0,38.8 5.6,38.8 5.6,36.5 2.8,36.5 2.8,35.7 0.0,35.7 0.0,35.0 0.0,35.0 0.0,35.8 0.0,34.5"/></clipPath>
<g transform="translate(41.4 568.4)" clip-path="url(#cpd)">
<g filter="url(#blur)"><rect x="-7.0" y="-7.0" width="233.5" height="73.0" fill="#440a52"/>
<path fill="#3c1f8e" d="M-2 -2 221.5 -2 221.5 61 -2 61ZM146.5 6.9 145 7.3 144.5 8.5 145 11.5 146.5 13.2 149.5 13.9 150.8 13 150.7 11.5 149.5 9.3Z"/>
<path fill="#352caf" d="M-2 -2 221.5 -2 221.5 61 -2 61ZM86.5 9.9 86.5 10.6ZM145 6.7 144 8.5 144.6 11.5 146.5 13.6 149.7 14.5 151 13.6 151.2 11.5 149.5 8.6 146.5 6.6Z"/>
<path fill="#303dc9" d="M-2 -2 221.5 -2 221.5 61 -2 61ZM85 9.9 85.6 11.5 86.5 12.1 88 11.9 88.4 11.5 88.1 10 86.5 9.1ZM145 6.4 144.1 7 143.5 8.5 144.2 11.5 146.5 14 148 14.7 149.5 15 150.6 14.5 151.6 13 151.5 11.5 149.8 8.5 146.5 6.4Z"/>
<path fill="#2c52dd" d="M-2 -2 221.5 -2 221.5 61 -2 61ZM86.5 8.4 85 9 84.5 10 84.8 11.5 86.5 12.8 88.9 13 89.5 11.5 88.9 10ZM145 6 143.6 7 143.1 8.5 143.8 11.5 145 13.2 148 15.1 149.5 15.3 151 14.8 151.9 13 151.8 11.5 150.1 8.5 148 6.7 146.5 6.1Z"/>
<path fill="#2568ea" d="M-2 -2 221.5 -2 221.5 61 -2 61ZM85 8.3 84 10 84.3 11.5 85 12.4 86.5 13.4 89.4 14.5 93.8 17.5 95.5 17.2 95.9 16 94.9 14.5 91 12 88.2 8.5 86.5 7.9ZM143.5 6.5 142.6 8.5 142.7 10 144.1 13 145.8 14.5 148 15.6 149.5 15.7 151 15.3 151.8 14.5 152.2 13 152.1 11.5 150.4 8.5 148 6.4 146.5 5.8 145 5.7Z"/>
<path fill="#167cf3" d="M-2 -2 221.5 -2 221.5 61 -2 61ZM85 7.8 84.2 8.5 83.6 10 83.9 11.5 85 13 89.5 15.7 92.5 18 95.5 18.8 97 18 97.4 17.5 97.4 16 95.5 13.5 91 10.6 88 7.8 86.5 7.4ZM145 5.3 143.5 5.9 142.6 7 142.2 8.5 142.5 11.5 143.3 13 144.7 14.5 146.5 15.6 149.5 16.1 151 15.8 152.2 14.5 152.6 13 151.8 10 149.5 7.2 148 6.1Z"/>
<path fill="#0a8efa" d="M-2 -2 221.5 -2 221.5 61 -2 61ZM86.5 6.9 85 7.3 83.7 8.5 83.2 10 83.5 11.6 85 13.6 92.6 19 95.5 19.8 98 19 98.8 17.5 98.7 16 97 13.5 92.5 10.7 89.5 8.2 88 7.3ZM143.5 5.3 142 7 141.3 10 141.7 13 142.7 14.5 145 15.8 148 16.6 149.5 16.7 151.5 16 152.8 14.5 153 13 152.2 10 151.2 8.5 149.5 6.8 146.5 5.1 145 4.9Z"/>
<path fill="#069cf9" d="M-2 -2 221.5 -2 221.5 61 -2 61ZM85 6.8 83.5 8.1 82.9 10 83.5 12.4 85 14.1 91 18.9 94 20.3 97 20.6 98.5 20.1 99.7 19 100.2 17.5 100 16 99.3 14.5 98.1 13 88.7 7 86.5 6.4ZM125.5 7.7 124.7 8.5 124.7 10 125.5 10.8 127 11.3 128.5 11 129.6 10 129.6 8.5 128.5 7.6 127 7.2ZM143.5 4.7 142.3 5.5 141.2 7 140 10 139.6 13 140.2 14.5 142 16.2 145 17.2 149.5 17.3 151 17 152.4 16 153.3 14.5 153.5 13 153.3 11.5 151.7 8.5 149.5 6.2 148 5.3 145 4.4Z"/>
<path fill="#03aaf9" d="M-2 -2 221.5 -2 221.5 61 -2 61ZM85 6.3 83.5 7.5 82.5 10 82.7 11.5 83.4 13 85 14.7 91 19.7 94 21.2 97 21.6 98.5 21.4 100.2 20.5 101.4 19 101.7 17.5 101.1 14.5 100 13 97 10.7 92.5 8.6 89.5 6.7 86.5 6ZM125.5 6.5 124.5 7 123.3 8.5 123.2 10 124 11.2 125.5 12.2 127 12.5 128.5 12.3 130.3 11.5 131.4 10 131.2 8.5 130 7.2 128.5 6.4ZM142 4.9 137.8 10 137.2 11.5 138 14.5 139.2 16 142 17.9 145 18.5 149.5 18.1 152.5 16.8 153.9 14.5 153.9 13 153.3 10 152.3 8.5 149.5 5.7 146.5 4.2 143.5 4.1Z"/>
<path fill="#00b8f8" d="M-2 -2 221.5 -2 221.5 61 -2 61ZM86.5 5.5 85 5.8 83.5 6.8 82.4 8.5 82.1 10 83 13 85 15.4 89.5 19.6 94 22.1 98.5 22.5 100.3 22 102.4 20.5 103.3 19 104 16 103.9 14.5 103.3 13 102 11.5 98.5 9.6 89.5 6ZM142 4 136 8.3 134.5 8.9 130 6 127 5.3 125.5 5.5 122.8 7 121.8 8.5 121.6 10 122.5 11.7 125.5 13.4 128.5 13.6 133 12.3 134.5 13.1 136.7 16 138.4 17.5 140.5 18.7 143.5 19.7 148 19.5 152.5 17.8 154.1 16 154.8 13 154 10 152 7 148 4.2 145 3.4ZM208 4.9 206.7 5.5 208 6.2 209.5 6.5 213 5.5 211 4.6Z"/>
<path fill="#00c6ea" d="M-2 -2 221.5 -2 221.5 61 -2 61ZM85 5.2 83.5 6.2 82.1 8.5 81.8 10 82.5 13 85 16.1 89.5 20.6 94 23.1 98.5 23.7 101.5 23.1 103.4 22 112.5 13 112.4 11.5 110 10 105.4 8.5 94 6.3 88 4.8ZM140.5 3.6 137.5 5.1 134.5 6 128.5 4.5 125.5 4.5 124 4.9 120.7 7 118.7 10 118.8 11.5 120.4 13 123.9 14.5 127 15 131.5 15.1 133 15.7 137.8 19 142 20.8 146.5 21.1 149.5 20.3 152.5 18.9 154.1 17.5 155.1 16 155.7 13 155.2 10 154.5 8.5 151.8 5.5 148 3.4 143.5 2.7ZM190 3.9 190 4.4ZM208 3.9 205 5.5 206.6 7 209.5 7.3 212 7 214.6 5.5 212.9 4Z"/>
<path fill="#00d3db" d="M-2 -2 221.5 -2 221.5 61 -2 61ZM140.5 2.2 134.5 3.9 125.5 3.3 116.5 5.7 110.5 5.5 97 4.3 86.5 4.1 85 4.5 82.3 7 81.6 8.5 81.5 11.5 83.5 15.2 88 20.6 91 23 95.5 24.7 100 25.1 103 24.4 110.5 20.1 113.5 18.8 118 17.4 121 17 130 17.5 140.5 21.8 143.5 22.5 146.5 22.5 151 21.1 154 19.3 155.5 17.6 156.9 14.5 157.3 11.5 157 10 155.4 7 154 5.5 151 3.5 145 1.6ZM188.5 3.9 188.5 5.5 190 5.8 190.6 5.5 191 4 190 3.5ZM206.5 3.7 203.6 5.5 204.5 7 206.5 7.6 209.5 7.8 212.5 7.5 214.1 7 216 5.5 215 4 212.5 3.4 209.5 3.3Z"/>
<path fill="#00ddc5" d="M-2 -2 221.5 -2 221.5 61 -2 61ZM139 0.7 133 1.6 125.5 1.6 118 2.2 109 2.2 97 1.6 89.5 2.3 86.5 3 83.5 4.8 82 6.6 81.2 8.5 81.1 11.5 82.4 14.5 88 22.4 92.5 25.4 97 26.7 100 26.9 104.5 26.2 115 22 119.5 20.8 124 20.2 130 20.4 142 23.9 145 24.1 148 23.7 151 22.8 154 21.1 157.6 17.5 159.5 13 159.3 10 158.8 8.5 158 7 155.5 4.3 151 1.7 145 0.3ZM184 6.8 183 7 182.5 7.6 182.5 8.8 184 9.2 185.2 8.5 184.7 7ZM188.5 3.4 187.7 4 187.4 5.5 188.5 6.2 190 6.3 191.5 5.5 191.8 4 191.5 3.7 190 3.1ZM205 3.6 203.9 4 202.2 5.5 202.8 7 206.5 8.2 211 8.2 214 7.6 215.7 7 217.3 5.5 216.6 4 212.5 2.8 208 2.9Z"/>
<path fill="#00e5ae" d="M-2 -2 221.5 -2 221.5 61 -2 61ZM91 -1 86.5 1.3 82.1 5.5 80.7 8.5 80.7 11.5 81.1 13 85 20.5 88 24.9 91 27.2 94 28.4 97 29.2 101.5 29.5 106 29 118 25 125.5 23.6 131.5 23.8 143.5 25.9 149.5 25.3 154 23.3 157.8 20.5 160.5 17.5 162.7 13 162.8 10 162.3 8.5 160.3 5.5 158.8 4 154 0.7 148 -1.3 142 -1.8 131.5 -1.2 97 -1.5ZM187 3.9 185.5 5.3 182.5 5.5 181 6.5 180.3 8.5 181.2 10 182.5 10.7 184 10.8 185.5 10.3 188.2 7 190 6.8 192.2 5.5 192.4 4 191.5 3.2 190 2.7 188.5 2.9ZM208 2.3 203.5 3.4 202.3 4 200.8 5.5 201.2 7 203.5 8.2 208 8.9 212.5 8.5 217 7.1 218.6 5.5 218.1 4 215.5 2.8 212.5 2.2Z"/>
<path fill="#00ea9c" d="M-2 -2 86.3 -2 81.3 5.5 80.1 8.5 79.9 10 80.6 13 85 24 88 28.7 91 31 95.5 32.9 101.5 33.7 106 33.5 109 32.9 119.5 29.4 126 28 131.5 27.7 142 28.5 146.5 28.3 151 27.4 157 24.6 162.5 20.5 167 16 168.7 13 168.9 10 167.6 7 164.8 4 160 0.5 155.2 -2 221.5 -2 221.5 61 -2 61ZM188.5 2.4 185.5 3.9 182.5 4.2 179.7 5.5 178.5 7 178.3 8.5 178.8 10 180.6 11.5 182.5 12.2 185.5 11.8 187 10.8 188.5 8.5 191.5 6.8 192.9 5.5 193 4 191.5 2.6 190 2.1ZM205 2.2 200.5 4 199.1 5.5 199.3 7 201.8 8.5 203.5 9 208 9.5 214 8.9 218.5 7.2 220 5.5 219.7 4 217.1 2.5 215.5 2 211 1.6Z"/>
<path fill="#00ee8a" d="M-2 -2 83.4 -2 79.8 7 79.4 11.5 82.1 19 84 26.5 86.5 32.7 89.5 37.8 91 39.6 94 41.9 98.5 43.4 104.5 43.8 109 43.5 115 42.4 131.5 37 146.5 33.7 152.5 31.8 158.5 29 166 24.8 172 20.5 178 14.7 184 14 187 12.8 188.5 11.5 190.4 8.5 194.2 5.5 194.1 4 192.5 2.5 191.5 1.8 188.5 1.6 185.5 2.6 181 2.7 176.5 3.9 175 3.7 167 -2 221.5 -2 221.5 4.2 219.6 2.5 217 1.6 212.5 1 208 1.1 203.5 1.7 200.5 2.8 198.1 4 196.7 5.5 196.9 7 199 8.6 202 9.6 208 10.2 214 9.6 217 8.8 220.6 7 221.5 5.8 221.5 61 -2 61Z"/>
<path fill="#00f277" d="M-2 -2 81.1 -2 78.8 7 78.4 10 81.4 20.5 84.1 37 86.4 58 86.4 61 -2 61ZM183.1 -2 221.5 -2 221.5 1.9 215.5 0.2 209.5 -0.1 203.5 0.5 196 2.6 194.5 2.3 193 1.4 190 0.3 185.4 -0.5ZM220.8 8.5 221.5 8.1 221.5 61 156.5 61 156.5 58 169.8 37 175 31 182 25 190 15.2 193 10.9 194.5 10.1 203.5 11.2 211 11.1 215.5 10.3Z"/>
<path fill="#00f563" d="M-2 -2 78.2 -2 76.9 10 77.6 13 79.9 19 80.7 23.5 81.8 35.5 82.9 61 -2 61ZM217.7 -2 221.5 -2 221.5 -1.3ZM221 11.5 221.5 11.4 221.5 61 182.7 61 182.7 58 188.5 48 194.5 39.1 197.5 35.5 202 31 210.1 25 213.4 16 214.4 14.5 217.1 13Z"/>
<path fill="#00f74a" d="M27.8 8.5 29.5 7.5 31 7.7 41.5 10.4 50.5 13.3 65.5 11 70 10.7 73 12 76 14.6 77.5 16.4 78.7 19 79.6 23.5 80.3 34 81.1 61 -2 61 -2 32.8 2.5 32.4 5.5 31.3 7 30.1 8.5 27.9 9.9 25 10.5 22 13 18.1 14.5 16.7 22 11.7Z"/>
<path fill="#00fa31" d="M29 13 29.5 12.7 31 13 40 15.1 50.5 18.4 70 15.4 73 16 76 17.6 77.9 20.5 78.8 26.5 79.8 61 12.4 61 12.4 58 15.1 29.5 16.2 23.5 18.1 20.5 20.5 18.1Z"/>
<path fill="#5af91a" d="M28.6 16 29.5 15.5 32.3 16 40 17.9 50.5 21.2 70 18.2 73 18.8 75.6 20.5 76.9 23.5 77.5 27.9 78.5 61 16.4 61 17.9 34 19 25.5 20.4 22 21.7 20.5 23.5 19Z"/>
<path fill="#8df70b" d="M27.8 22 29.5 20.8 31 20.9 36.4 22 50.5 26 67 23.8 70 23.9 71.5 24.9 73 26.7 74.5 31.5 76 44.2 76.8 61 19.6 61 20.5 47.7 22 35.5 22.9 31 24.4 26.5 26.3 23.5Z"/>
</g></g>
<path d="M40.8 576.0h1.3v1.3h-1.3zM43.5 576.0h1.3v1.3h-1.3zM46.3 575.9h1.3v1.3h-1.3zM49.1 575.8h1.3v1.3h-1.3zM51.8 575.7h1.3v1.3h-1.3zM54.6 575.6h1.3v1.3h-1.3zM57.4 575.6h1.3v1.3h-1.3zM60.1 575.5h1.3v1.3h-1.3zM62.9 575.4h1.3v1.3h-1.3zM65.7 575.3h1.3v1.3h-1.3zM68.4 575.2h1.3v1.3h-1.3zM71.2 575.2h1.3v1.3h-1.3zM74.0 575.1h1.3v1.3h-1.3zM76.7 575.0h1.3v1.3h-1.3zM79.5 574.9h1.3v1.3h-1.3zM82.3 574.8h1.3v1.3h-1.3zM85.0 574.8h1.3v1.3h-1.3zM87.8 574.7h1.3v1.3h-1.3zM90.6 574.6h1.3v1.3h-1.3zM93.3 574.5h1.3v1.3h-1.3zM96.1 574.4h1.3v1.3h-1.3zM98.9 574.3h1.3v1.3h-1.3zM101.6 574.3h1.3v1.3h-1.3zM104.4 574.2h1.3v1.3h-1.3zM107.2 574.1h1.3v1.3h-1.3zM109.9 574.0h1.3v1.3h-1.3zM112.7 573.9h1.3v1.3h-1.3zM115.5 573.9h1.3v1.3h-1.3zM118.3 573.8h1.3v1.3h-1.3zM121.0 573.7h1.3v1.3h-1.3zM123.8 573.6h1.3v1.3h-1.3zM126.6 573.5h1.3v1.3h-1.3zM129.3 573.5h1.3v1.3h-1.3zM132.1 573.4h1.3v1.3h-1.3zM134.9 573.3h1.3v1.3h-1.3zM137.6 573.2h1.3v1.3h-1.3zM140.4 573.1h1.3v1.3h-1.3zM143.2 573.1h1.3v1.3h-1.3zM145.9 573.0h1.3v1.3h-1.3zM148.7 572.9h1.3v1.3h-1.3zM151.5 572.8h1.3v1.3h-1.3zM154.2 572.7h1.3v1.3h-1.3zM157.0 572.6h1.3v1.3h-1.3zM159.8 572.6h1.3v1.3h-1.3zM162.5 572.5h1.3v1.3h-1.3zM165.3 572.4h1.3v1.3h-1.3zM168.1 572.3h1.3v1.3h-1.3zM170.8 572.2h1.3v1.3h-1.3zM173.6 572.2h1.3v1.3h-1.3zM176.4 572.1h1.3v1.3h-1.3zM179.1 572.0h1.3v1.3h-1.3zM181.9 571.9h1.3v1.3h-1.3zM184.7 571.8h1.3v1.3h-1.3zM187.5 571.8h1.3v1.3h-1.3zM190.2 571.7h1.3v1.3h-1.3zM193.0 571.6h1.3v1.3h-1.3zM195.8 571.5h1.3v1.3h-1.3zM198.5 571.4h1.3v1.3h-1.3zM201.3 571.4h1.3v1.3h-1.3zM204.1 571.3h1.3v1.3h-1.3zM206.8 571.2h1.3v1.3h-1.3zM209.6 571.1h1.3v1.3h-1.3zM212.4 571.0h1.3v1.3h-1.3zM215.1 570.9h1.3v1.3h-1.3zM217.9 570.9h1.3v1.3h-1.3zM220.7 570.8h1.3v1.3h-1.3zM223.4 570.7h1.3v1.3h-1.3zM226.2 570.6h1.3v1.3h-1.3zM229.0 570.5h1.3v1.3h-1.3zM231.7 570.5h1.3v1.3h-1.3zM234.5 570.4h1.3v1.3h-1.3zM237.3 570.3h1.3v1.3h-1.3zM240.0 570.2h1.3v1.3h-1.3zM242.8 570.1h1.3v1.3h-1.3zM245.6 570.1h1.3v1.3h-1.3zM248.3 570.0h1.3v1.3h-1.3zM251.1 569.9h1.3v1.3h-1.3zM253.9 569.8h1.3v1.3h-1.3zM256.7 569.7h1.3v1.3h-1.3zM259.4 569.6h1.3v1.3h-1.3z" fill="#000"/>
<circle cx="125" cy="576.9" r="1.5" fill="#fff"/>
<clipPath id="cpe"><polygon points="0.0,73.2 2.8,74.0 5.8,72.8 8.8,71.6 17.8,68.6 26.8,64.6 35.8,60.2 40.8,59.6 47.8,56.6 55.8,51.6 59.3,50.3 65.1,49.2 69.4,46.7 72.3,44.5 78.2,43.8 86.9,42.3 92.7,40.9 95.9,37.2 101.4,35.8 107.3,32.9 116.0,31.4 118.9,29.2 124.7,24.1 130.5,19.1 136.3,14.7 140.3,10.7 144.6,7.1 151.9,6.0 160.6,4.6 166.4,3.0 170.8,1.5 175.2,2.0 181.0,3.4 189.0,5.3 189.0,13.6 186.8,13.6 186.8,16.7 183.9,16.7 183.9,19.0 181.0,19.0 181.0,21.3 178.6,21.3 178.6,22.7 176.1,22.7 176.1,23.6 173.7,23.6 173.7,25.1 171.3,25.1 171.3,25.0 168.8,25.0 168.8,26.9 166.4,26.9 166.4,28.7 164.0,28.7 164.0,29.0 161.6,29.0 161.6,30.1 159.2,30.1 159.2,29.8 156.8,29.8 156.8,31.2 154.3,31.2 154.3,31.9 151.9,31.9 151.9,33.3 149.0,33.3 149.0,35.5 146.6,35.5 146.6,35.7 144.1,35.7 144.1,36.9 141.7,36.9 141.7,38.0 139.3,38.0 139.3,39.7 136.8,39.7 136.8,40.4 134.4,40.4 134.4,40.4 130.5,40.4 130.5,41.6 127.6,41.6 127.6,41.2 124.7,41.2 124.7,42.4 120.3,42.4 120.3,40.1 118.9,40.1 118.9,41.2 116.0,41.2 116.0,42.6 113.1,42.6 113.1,41.8 110.2,41.8 110.2,41.9 107.5,41.9 107.5,43.3 104.9,43.3 104.9,43.5 102.2,43.5 102.2,43.0 101.4,43.0 101.4,46.6 98.5,46.6 98.5,47.1 95.6,47.1 95.6,48.3 92.7,48.3 92.7,48.1 89.8,48.1 89.8,49.5 86.9,49.5 86.9,49.5 84.5,49.5 84.5,49.4 82.0,49.4 82.0,48.8 79.6,48.8 79.6,47.4 77.2,47.4 77.2,47.2 74.8,47.2 74.8,46.5 72.3,46.5 72.3,48.4 69.4,48.4 69.4,49.4 66.5,49.4 66.5,50.8 63.8,50.8 63.8,52.1 60.8,52.1 60.8,53.1 57.8,53.1 57.8,55.8 55.3,55.8 55.3,56.8 52.8,56.8 52.8,58.1 50.3,58.1 50.3,60.2 47.8,60.2 47.8,61.2 45.5,61.2 45.5,61.9 43.1,61.9 43.1,63.2 40.8,63.2 40.8,64.5 38.3,64.5 38.3,64.3 35.8,64.3 35.8,66.3 32.8,66.3 32.8,67.4 30.3,67.4 30.3,69.7 27.8,69.7 27.8,71.1 25.3,71.1 25.3,71.4 22.8,71.4 22.8,74.0 20.3,74.0 20.3,74.7 17.8,74.7 17.8,76.3 15.1,76.3 15.1,76.2 12.5,76.2 12.5,77.0 9.8,77.0 9.8,78.0 5.8,78.0 5.8,79.2 1.8,79.2 1.8,76.7 0.0,76.7 0.0,75.0"/></clipPath>
<g transform="translate(342.2 30.4)" clip-path="url(#cpe)">
<g filter="url(#blur)"><rect x="-7.0" y="-7.0" width="203.5" height="92.5" fill="#440a52"/>
<path fill="#3c1f8e" d="M-2 -2 191.5 -2 191.5 5.1 187 3.6 178 2.4 174.6 2.5 171.7 4 172.9 5.5 175.3 7 182.5 10.4 187 11.1 191.5 10.9 191.5 80.5 -2 80.5ZM142 8.3 139 10.8 137.5 11.5 133 15.6 130 17.3 125.3 22 123.6 25 124 25.3 125.5 25 130 21 131.6 20.5 142.2 10 142.8 8.5Z"/>
<path fill="#352caf" d="M-2 -2 191.5 -2 191.5 4.5 187 3.1 178 2 172 2.4 170.6 4 172 5.5 175 7.5 182.5 11.2 187 12.1 191.5 11.8 191.5 80.5 -2 80.5ZM142 8 139 10 133 15.3 130 17.2 125.2 22 123.2 25 124 25.7 125.5 25.2 135.3 17.5 143.6 8.5 143.5 8.1Z"/>
<path fill="#303dc9" d="M-2 -2 191.5 -2 191.5 3.8 184 2 176.5 1.5 170.5 2.2 169.7 2.5 169.5 4 173.5 7.1 182.5 12.3 187 13.1 191.5 12.7 191.5 80.5 -2 80.5ZM143.5 6.9 140.7 8.5 134.5 13.8 130 17 123.8 23.5 122.1 26.5 122.5 26.8 125.5 25.3 135.7 17.5 144 8.5 144.1 7Z"/>
<path fill="#2c52dd" d="M-2 -2 191.5 -2 191.5 2.9 185.5 1.5 176.5 1 170.5 1.4 168.2 2.5 168.4 4 170.1 5.5 179.5 12.1 182.5 13.8 187 14.5 191.5 14 191.5 80.5 -2 80.5ZM143.5 6.6 140.5 8.3 134.5 13.6 130 16.9 123.6 23.5 121.8 26.5 122.5 27 125.5 25.5 136 17.5 145.5 7 145 6.6Z"/>
<path fill="#2568ea" d="M-2 -2 191.5 -2 191.5 1.5 184 0.4 175 0.2 169 1 166.7 2.5 167.4 4 175.4 10 178 12.9 181 15.2 185.5 16.5 188.5 16.5 191.5 15.9 191.5 80.5 -2 80.5ZM143.5 6.3 140.5 8.1 134.5 13.4 130 16.7 124.7 22 121.4 26.5 122.5 27.3 124 26.6 136 17.7 146.2 7 145 5.9Z"/>
<path fill="#167cf3" d="M-2 -2 191.5 -2 185.5 -1.9 169 0.1 166.3 1 165.3 2.5 166.2 4 173.8 10 176.5 14.2 179.5 17.2 182.5 18.8 185.5 19.7 191.5 19.8 191.5 80.5 -2 80.5ZM145 5.4 140.5 7.8 136 11.9 130 16.5 123.3 23.5 121.1 26.5 120.9 28 125.5 25.8 136 18 143.5 10 147.1 7 146.5 6.2Z"/>
<path fill="#0a8efa" d="M-2 -2 173.8 -2 166 -0.1 164.1 1 163.8 2.5 165 4 170.8 8.5 172.2 10 176.1 19 177 22 176.3 37 176.3 80.5 -2 80.5ZM145 5 140.5 7.6 136 11.8 130 16.4 123.1 23.5 120.9 26.5 120.5 28 121 28.3 124 27 136 18.2 143.5 10.3 147.9 7 147.2 5.5Z"/>
<path fill="#069cf9" d="M-2 -2 167.5 -2 163.6 -0.5 161.9 1 162.2 2.5 169.3 8.5 170.4 10 172.1 17.5 172.1 20.5 170.2 29.5 169.5 35.5 169.4 80.5 -2 80.5ZM143.5 5.3 140.5 7.3 136 11.6 128.6 17.5 123 23.5 120.7 26.5 120.1 28 121 28.6 122.5 28 128.5 24.1 136 18.4 145 9.3 148.9 7 148.7 5.5 148 5.2 145 4.6Z"/>
<path fill="#03aaf9" d="M-2 -2 162.1 -2 160.2 -0.5 159.6 1 160.3 2.5 167.7 8.5 168.9 11.5 169.3 16 168.6 20.5 164.9 29.5 163.6 35.5 163.2 80.5 -2 80.5ZM143.5 4.9 128.5 17.5 122.8 23.5 119.7 28 121 28.8 122.5 28.2 128.5 24.3 136 18.6 145 9.7 147.7 8.5 149.9 7 150.3 5.5 149.5 5 145 4.2Z"/>
<path fill="#00b8f8" d="M-2 -2 157 -2 156.6 -0.5 156.9 1 157.9 2.5 164.7 7 166.7 10 167.1 13 166.9 16 166 19.2 164.5 22.1 158.9 29.5 157.5 32.5 156.8 35.5 156.4 43 156.4 80.5 -2 80.5ZM145 3.7 140.5 6.6 135.4 11.5 128.5 17.1 121.4 25 119.4 28 119.5 29.5 122.5 28.4 127 25.6 136 18.8 145 10.1 148 8.9 151 7 152.1 5.5 151 4.5Z"/>
<path fill="#00c6ea" d="M-2 -2 151.7 -2 153 1 153 2.5 145 2.9 140.5 6.1 134.9 11.5 128.5 16.8 125.5 20 120.1 26.5 119.2 28 119.1 29.5 119.5 29.8 121 29.4 127 25.9 136 19.2 143.9 11.5 149.9 8.5 155.5 4.3 157 4.3 160 5.1 163 6.8 164.5 8.5 165.2 10 165.5 13 164.1 17.5 161.5 21.1 153.2 28 151.4 31 150.6 34 150.1 41.5 150.1 80.5 -2 80.5Z"/>
<path fill="#00d3db" d="M-2 -2 144.6 -2 145.9 1 145 1.3 136.2 10 130 15.1 127 18.1 120 26.5 119 28 118.7 29.5 119.5 30.1 122.5 28.9 125.5 27.1 136 19.8 145 11.3 149.5 9.5 155.5 5.9 158.5 5.6 161.5 6.8 163.3 8.5 164.3 11.5 163.9 14.5 163 16.2 161.5 18 158.5 20.1 150.3 23.5 147.7 25 145 28 143.9 31 143.2 40 143.2 80.5 -2 80.5Z"/>
<path fill="#00ddc5" d="M-2 -2 137.5 -2 138.1 4 137.6 7 135.3 10 128.5 16.2 124 21.2 119.8 26.5 118.3 29.5 119.5 30.4 121 29.9 128.5 25.5 136 20.5 137.5 20.1 138.2 20.5 137.3 34 137.3 80.5 -2 80.5ZM155 7 157 6.3 158.5 6.4 160.3 7 162.3 8.5 163.4 11.5 163.3 13 162.8 14.5 161.5 16.3 158.5 18.2 154 18.6 148 17.7 144.7 16 144.2 14.5 145.1 13 149.5 10.7Z"/>
<path fill="#00e5ae" d="M-2 -2 133 -2 133.1 10 132.2 11.5 121.8 23.5 117.9 29.5 119.5 30.7 128.5 26.2 130 25 131.5 24.6 133 25 132.9 80.5 -2 80.5ZM153.5 8.5 157 7 160 7.5 161.3 8.5 162.3 10 162.7 11.5 162.5 13 161.5 15 160 16.3 157 17.2 154 16.7 152.8 16 151.3 14.5 150.7 13 150.8 11.5 151.8 10Z"/>
<path fill="#00ea9c" d="M-2 -2 128.3 -2 128.1 14.5 125.4 19 120.5 25 117.6 29.5 118 31 119.5 30.9 125.5 28 127 27.7 128.1 28 128.3 80.5 -2 80.5ZM154.6 8.5 157 7.6 158.5 7.6 160 8.2 161.5 9.9 162 11.5 161.8 13 160 15.4 157 16.3 155.4 16 153.1 14.5 152.3 13 152.2 11.5 152.9 10Z"/>
<path fill="#00ee8a" d="M-2 -2 126.5 -2 126.3 16 124.8 19 118.3 28 117.4 29.5 117.3 31 119.5 31.3 125.5 29 126.3 29.5 126.5 80.5 -2 80.5ZM155.9 8.5 158.5 8.2 160 9 160.9 10 161.4 11.5 161.1 13 160 14.6 158.5 15.4 157 15.5 155.5 15.2 154.5 14.5 153.4 13 153.2 11.5 153.8 10Z"/>
<path fill="#00f277" d="M-2 -2 125 -2 124.8 17.5 124.2 19 117.1 29.5 116.6 31 118 31.6 119.5 31.6 124 30.2 124.9 31 125 80.5 -2 80.5ZM154.7 10 157 8.7 158.5 8.8 160.2 10 160.8 11.5 160.5 13 158.5 14.7 157 14.9 155.5 14.3 154.3 13 154 11.5Z"/>
<path fill="#00f563" d="M-2 -2 123.5 -2 123.3 19 122.7 20.5 116.1 31 116.5 31.6 118 32 122.5 31.1 123.5 32.5 123.5 80.5 -2 80.5ZM155.6 10 157 9.4 158.5 9.5 159.3 10 160.1 11.5 159.7 13 158.5 14 157 14.1 155.5 13.4 154.8 11.5Z"/>
<path fill="#00f74a" d="M-2 -2 122.2 -2 121.9 20.5 119.6 25 115.7 31 116.5 32.4 121 32.2 121.9 32.5 122.2 34 122.2 80.5 -2 80.5ZM157 10 158.5 10.2 159.3 11.5 158.5 13.2 157 13.4 156.3 13 155.6 11.5Z"/>
<path fill="#00fa31" d="M-2 -2 121.1 -2 121 20.5 120.7 22 119.3 25 115.3 31 115.9 32.5 116.5 32.8 119.5 32.8 121 34 121.1 80.5 -2 80.5ZM156.8 11.5 158.2 11.5 157 11.9Z"/>
<path fill="#5af91a" d="M-2 -2 120.2 -2 120 22 118.1 26.5 114.9 31 115.2 32.5 116.5 33.2 118 33.1 119.9 34 120.2 35.5 120.2 80.5 -2 80.5Z"/>
<path fill="#8df70b" d="M-2 -2 119.3 -2 119.1 23.5 117.8 26.5 114.4 31 114.6 32.5 116.5 33.6 118 33.6 118.9 34 119.3 35.5 119.3 80.5 -2 80.5Z"/>
<path fill="#a4f502" d="M-2 -2 118.7 -2 118.6 23.5 118.2 25 116.5 28 114 31 114 32.5 116.5 34 118 34.1 118.6 35.5 118.7 80.5 -2 80.5Z"/>
<path fill="#c0ee04" d="M-2 -2 118.1 -2 118.1 23.5 117.7 25 116.5 27.3 113.5 31 113.3 32.5 118 35.7 118.1 80.5 -2 80.5Z"/>
<path fill="#dee509" d="M-2 -2 117.3 -2 117 25 116.6 26.5 115.5 28 112.8 31 112.6 32.5 116.7 35.5 117.2 37 117.3 80.5 -2 80.5Z"/>
<path fill="#f9d714" d="M-2 -2 116.4 -2 116.3 25 115 28 112.2 31 111.8 32.5 115.5 35.5 116.2 37 116.4 80.5 -2 80.5Z"/>
<path fill="#fbce1a" d="M-2 -2 115.4 -2 115.4 25 115.2 26.5 114.3 28 111.5 31 111 32.5 112.2 34 114.4 35.5 115.3 37 115.4 80.5 -2 80.5Z"/>
<path fill="#fcc11e" d="M-2 -2 114.5 -2 114.4 25 113.5 28 110.7 31 110.2 32.5 111.1 34 113.5 35.7 114.3 37 114.4 38.5 114.5 80.5 7.9 80.5 7.9 77.5 7.4 76 5.5 76.1 2.5 77.4 -2 77.3Z"/>
<path fill="#fdad1e" d="M-2 -2 113.3 -2 113.3 25 113.1 26.5 112.4 28 109.9 31 109.4 32.5 110 34 113 37 113.3 38.5 113.3 80.5 10.1 80.5 10.1 76 8.5 75 5.5 75 2.5 76.3 -2 76Z"/>
<path fill="#fda01a" d="M-2 -2 111.7 -2 111.6 26.5 111.1 28 108.4 32.5 108.9 34 111.4 37 111.7 38.5 111.7 80.5 12.3 80.5 12 74.5 7 73.7 5.5 73.9 2.5 75.3 -2 74.9Z"/>
<path fill="#fd9216" d="M-2 -2 4.4 -2 4.4 71.5 4.3 73 2.5 73.6 -2 73.7ZM6 -2 110.1 -2 110 26.5 109.7 28 107.3 32.5 107.6 34 109.7 37 110 38.5 110.1 80.5 13.2 80.5 13 73.6 8.5 72.7 6 71.5Z"/>
<path fill="#fd8310" d="M8.6 -2 108.3 -2 108.3 26.5 107.5 29.5 105.8 32.5 105.5 34 107.9 37 108.2 38.5 108.3 80.5 13.6 80.5 13.6 74.5 13 72.4 8.7 71.5Z"/>
<path fill="#fd730a" d="M10.8 -2 105.3 -2 105.3 28 103.4 34 103.4 35.5 105.1 38.5 105.3 40 105.3 80.5 13.9 80.5 13.7 73 13 71.3 10.8 70Z"/>
<path fill="#fc6608" d="M13 -2 101.7 -2 101.7 29.5 100.8 35.5 101.7 41.5 101.7 80.5 14.2 80.5 14.2 73 13.9 71.5 13 70Z"/>
<path fill="#fb5906" d="M14.9 -2 96.4 -2 96.4 31 96 37 96.4 43 96.4 80.5 14.9 80.5Z"/>
<path fill="#f84a05" d="M16.5 -2 88.4 -2 88.4 80.5 16.5 80.5Z"/>
<path fill="#f33a05" d="M18.1 -2 69.3 -2 69.3 80.5 18.1 80.5Z"/>
<path fill="#ed2905" d="M20 -2 61.1 -2 61.1 80.5 20 80.5Z"/>
<path fill="#e11d05" d="M25.3 -2 52.1 -2 52.1 80.5 25.3 80.5Z"/>
<path fill="#d11405" d="M31.3 -2 43 -2 43 80.5 31.3 80.5Z"/>
</g></g>
<path d="M341.6 102.9h1.3v1.3h-1.3zM344.5 103.7h1.3v1.3h-1.3zM347.5 102.5h1.3v1.3h-1.3zM350.5 101.3h1.3v1.3h-1.3zM353.5 100.3h1.3v1.3h-1.3zM356.5 99.3h1.3v1.3h-1.3zM359.5 98.3h1.3v1.3h-1.3zM362.5 97.0h1.3v1.3h-1.3zM365.5 95.6h1.3v1.3h-1.3zM368.5 94.3h1.3v1.3h-1.3zM371.4 92.8h1.3v1.3h-1.3zM374.4 91.4h1.3v1.3h-1.3zM377.4 89.9h1.3v1.3h-1.3zM380.4 89.6h1.3v1.3h-1.3zM383.4 88.9h1.3v1.3h-1.3zM386.4 87.6h1.3v1.3h-1.3zM389.4 86.3h1.3v1.3h-1.3zM392.4 84.5h1.3v1.3h-1.3zM395.4 82.6h1.3v1.3h-1.3zM398.4 81.0h1.3v1.3h-1.3zM401.4 80.0h1.3v1.3h-1.3zM404.3 79.4h1.3v1.3h-1.3zM407.3 78.6h1.3v1.3h-1.3zM410.3 76.8h1.3v1.3h-1.3zM413.3 74.7h1.3v1.3h-1.3zM416.3 74.0h1.3v1.3h-1.3zM419.3 73.6h1.3v1.3h-1.3zM422.3 73.1h1.3v1.3h-1.3zM425.3 72.6h1.3v1.3h-1.3zM428.3 72.1h1.3v1.3h-1.3zM431.2 71.4h1.3v1.3h-1.3zM434.2 70.7h1.3v1.3h-1.3zM437.2 67.2h1.3v1.3h-1.3zM440.2 66.2h1.3v1.3h-1.3zM443.2 65.4h1.3v1.3h-1.3zM446.2 64.0h1.3v1.3h-1.3zM449.2 62.6h1.3v1.3h-1.3zM452.2 62.1h1.3v1.3h-1.3zM455.2 61.6h1.3v1.3h-1.3zM458.2 60.7h1.3v1.3h-1.3zM461.2 58.3h1.3v1.3h-1.3zM464.1 55.7h1.3v1.3h-1.3zM467.1 53.1h1.3v1.3h-1.3zM470.1 50.5h1.3v1.3h-1.3zM473.1 48.0h1.3v1.3h-1.3zM476.1 45.8h1.3v1.3h-1.3zM479.1 43.2h1.3v1.3h-1.3zM482.1 40.3h1.3v1.3h-1.3zM485.1 37.8h1.3v1.3h-1.3zM488.1 36.6h1.3v1.3h-1.3zM491.1 36.1h1.3v1.3h-1.3zM494.0 35.7h1.3v1.3h-1.3zM497.0 35.2h1.3v1.3h-1.3zM500.0 34.7h1.3v1.3h-1.3zM503.0 34.1h1.3v1.3h-1.3zM506.0 33.3h1.3v1.3h-1.3zM509.0 32.4h1.3v1.3h-1.3zM512.0 31.4h1.3v1.3h-1.3zM515.0 31.5h1.3v1.3h-1.3zM518.0 32.0h1.3v1.3h-1.3zM521.0 32.8h1.3v1.3h-1.3zM523.9 33.5h1.3v1.3h-1.3zM526.9 34.2h1.3v1.3h-1.3zM529.9 34.9h1.3v1.3h-1.3z" fill="#000"/>
<clipPath id="cpf"><polygon points="0.0,73.2 2.8,74.0 5.8,72.8 8.8,71.6 17.8,68.6 26.8,64.6 35.8,60.2 40.8,59.6 47.8,56.6 55.8,51.6 59.3,50.3 65.1,49.2 69.4,46.7 72.3,44.5 78.2,43.8 86.9,42.3 92.7,40.9 95.9,37.2 101.4,35.8 107.3,32.9 116.0,31.4 118.9,29.2 124.7,24.1 130.5,19.1 136.3,14.7 140.3,10.7 144.6,7.1 151.9,6.0 160.6,4.6 166.4,3.0 170.8,1.5 175.2,2.0 181.0,3.4 189.0,5.3 189.0,13.6 186.8,13.6 186.8,16.9 183.9,16.9 183.9,19.2 181.0,19.2 181.0,20.9 178.6,20.9 178.6,21.8 176.1,21.8 176.1,22.6 173.7,22.6 173.7,24.7 171.3,24.7 171.3,25.7 168.8,25.7 168.8,27.3 166.4,27.3 166.4,27.9 164.0,27.9 164.0,29.2 161.6,29.2 161.6,29.2 159.2,29.2 159.2,30.7 156.8,30.7 156.8,31.6 154.3,31.6 154.3,32.1 151.9,32.1 151.9,33.3 149.0,33.3 149.0,35.7 146.6,35.7 146.6,35.9 144.1,35.9 144.1,37.4 141.7,37.4 141.7,38.7 139.3,38.7 139.3,38.8 136.8,38.8 136.8,40.5 134.4,40.5 134.4,41.2 130.5,41.2 130.5,41.7 127.6,41.7 127.6,41.5 124.7,41.5 124.7,41.6 120.3,41.6 120.3,41.0 118.9,41.0 118.9,42.3 116.0,42.3 116.0,42.0 113.1,42.0 113.1,41.6 110.2,41.6 110.2,41.9 107.5,41.9 107.5,42.8 104.9,42.8 104.9,42.7 102.2,42.7 102.2,43.9 101.4,43.9 101.4,46.1 98.5,46.1 98.5,46.6 95.6,46.6 95.6,48.3 92.7,48.3 92.7,48.3 89.8,48.3 89.8,49.4 86.9,49.4 86.9,49.8 84.5,49.8 84.5,48.7 82.0,48.7 82.0,48.4 79.6,48.4 79.6,48.0 77.2,48.0 77.2,47.8 74.8,47.8 74.8,47.7 72.3,47.7 72.3,48.2 69.4,48.2 69.4,49.8 66.5,49.8 66.5,51.2 63.8,51.2 63.8,51.7 60.8,51.7 60.8,53.9 57.8,53.9 57.8,55.0 55.3,55.0 55.3,57.5 52.8,57.5 52.8,58.4 50.3,58.4 50.3,59.3 47.8,59.3 47.8,61.4 45.5,61.4 45.5,61.9 43.1,61.9 43.1,62.8 40.8,62.8 40.8,64.2 38.3,64.2 38.3,64.4 35.8,64.4 35.8,65.2 32.8,65.2 32.8,68.6 30.3,68.6 30.3,69.6 27.8,69.6 27.8,69.9 25.3,69.9 25.3,72.5 22.8,72.5 22.8,72.9 20.3,72.9 20.3,74.7 17.8,74.7 17.8,76.8 15.1,76.8 15.1,77.1 12.5,77.1 12.5,77.4 9.8,77.4 9.8,78.2 5.8,78.2 5.8,78.4 1.8,78.4 1.8,76.6 0.0,76.6 0.0,75.3"/></clipPath>
<g transform="translate(342.2 293.3)" clip-path="url(#cpf)">
<g filter="url(#blur)"><rect x="-7.0" y="-7.0" width="203.5" height="92.5" fill="#440a52"/>
<path fill="#3c1f8e" d="M-2 -2 191.5 -2 191.5 4.4 190 3.6 185.5 3.2 172 3.5 169.9 4 170.1 5.5 172.7 7 176.8 8.5 179.5 9.1 182.5 10.4 187.8 11.5 191.5 11.8 191.5 80.5 -2 80.5ZM127 21.7 126.7 22 127 22.4 128 22ZM136 14.2 133 15.8 131.2 17.5 128.2 20.5 128.5 21.5 136 16.1 137.2 14.5ZM137.5 12.7 137.2 13 137.5 14.2 138.1 13Z"/>
<path fill="#352caf" d="M-2 -2 191.5 -2 191.5 3.6 185.5 2.5 172 2.9 168.1 4 168.9 5.5 171.7 7 175.7 8.5 185.5 11.6 191.5 12.4 191.5 80.5 -2 80.5ZM125.5 23.4 125.7 23.5ZM137.5 12.5 132.6 16 129.4 19 126.4 22 127 22.8 128.5 22.1 136 16.3 138.7 13ZM139 11.3 139 12.3 139.4 11.5Z"/>
<path fill="#303dc9" d="M-2 -2 191.5 -2 191.5 2.9 185.5 2 172 2.4 169 2.8 166.5 4 167.7 5.5 174.5 8.5 185.5 12.1 191.5 13.1 191.5 80.5 -2 80.5ZM139 11 130.7 17.5 126.2 22 125.1 23.5 125.5 23.9 128.5 22.3 136 16.5 140 11.5Z"/>
<path fill="#2c52dd" d="M-2 -2 191.5 -2 191.5 2 185.5 1.5 170.5 2.1 166.9 2.5 165.1 4 166.5 5.5 172 8 184 12.2 191.5 14.1 191.5 80.5 -2 80.5ZM140.5 9.7 133 15.3 128.8 19 124.8 23.5 125.5 24.3 127 23.5 136 16.7 140.5 11.5 141.3 10Z"/>
<path fill="#2568ea" d="M-2 -2 191.5 -2 191.5 0.3 190 0.6 179.5 1.5 167.5 1.8 164.5 2.5 163.7 4 165.3 5.5 168.3 7 189.1 14.5 191.5 15.9 191.5 80.5 -2 80.5ZM142 8.5 139 10.4 130.1 17.5 125.6 22 123.7 25 124 25.3 127 23.7 136 17 142 10Z"/>
<path fill="#167cf3" d="M-2 -2 188.4 -2 186.7 -0.5 181 0.9 167.5 1.3 164.5 1.8 162.6 2.5 162.3 4 164.1 5.5 167.1 7 183.1 13 187.6 16 188.5 17.5 188.7 80.5 -2 80.5ZM142 8.1 130 17.4 125.4 22 123.3 25 124 25.6 125.5 24.9 136 17.2 143.5 8.5Z"/>
<path fill="#0a8efa" d="M-2 -2 184.6 -2 183 -0.5 181 -0 178 0.4 165 1 163 1.4 160.8 2.5 160.9 4 162.8 5.5 167.5 7.7 178.1 11.5 181.2 13 183.5 14.5 184.5 16 185 20.5 185 80.5 -2 80.5ZM143.5 6.9 140.5 8.7 130 17.2 125.2 22 123 25 124 25.9 125.5 25.2 136 17.4 144 8.5 144.4 7Z"/>
<path fill="#069cf9" d="M-2 -2 181.7 -2 179.5 -0.6 178 -0.3 163 0.7 161.5 1 159 2.5 159.3 4 161.4 5.5 179.4 13 181.2 14.5 182.1 16 182.4 20.5 182.4 80.5 -2 80.5ZM143.5 6.5 140.5 8.3 130 17 123.7 23.5 122.1 26.5 122.5 26.8 125.5 25.4 136 17.6 146 7 145 6.2Z"/>
<path fill="#03aaf9" d="M-2 -2 178.8 -2 173.5 -0.7 161.5 0.2 158.8 1 157 2.5 157.4 4 159.9 5.5 177.3 13 179 14.5 179.6 16 179.8 80.5 -2 80.5ZM145 5.4 140.5 8 130 16.8 124.8 22 122.4 25 121.6 26.5 122.5 27.1 124 26.5 136 17.9 143.5 9.9 147.2 7 146.5 6.1Z"/>
<path fill="#00b8f8" d="M-2 -2 174.4 -2 170.5 -1.3 163 -0.8 158.5 0.1 156.1 1 154.9 2.5 155.1 4 157.7 5.5 168.9 10 174.7 13 176.1 14.5 176.7 16 176.8 80.5 -2 80.5ZM145 4.9 140.5 7.7 130 16.6 123.3 23.5 121.2 26.5 121 28 125.5 25.8 136 18.2 145 9 148.6 7 148.6 5.5Z"/>
<path fill="#00c6ea" d="M-2 -2 167.4 -2 161.5 -1.5 156.3 -0.5 153.4 1 151 4.2 145 4.4 143.5 5.2 131.5 15 127.3 19 121.9 25 120.9 26.5 120.5 28 121 28.3 124 27 134.5 19.6 145 9.4 152.5 5.8 155.5 5.9 159.2 7 169.8 11.5 171.9 13 172.8 14.5 173.2 17.5 173.2 80.5 -2 80.5Z"/>
<path fill="#00d3db" d="M-2 -2 157.1 -2 152.5 -0.7 151 0.5 149.5 2.5 145 3.7 143.5 4.6 131.5 14.8 127.1 19 121.7 25 120 28 121 28.7 124 27.2 134.5 19.9 145 9.9 151 7.8 154 7.2 158.5 7.9 163.2 10 167.8 13 168.7 14.5 169.1 17.5 169.1 80.5 -2 80.5Z"/>
<path fill="#00ddc5" d="M-2 -2 150 -2 147.9 -0.5 145.9 2.5 145 2.7 140.5 6.4 127 18.8 121.5 25 119.6 28 121 29 127 25.5 136 19 142 13 145 10.6 154 8.6 158.8 10 160.6 11.5 161.3 13 161.6 16 161.5 80.5 -2 80.5Z"/>
<path fill="#00e5ae" d="M-2 -2 143.7 -2 143 -0.5 143 2.5 142.2 4 125.5 20 120.2 26.5 119.2 28 119 29.5 119.5 29.7 122.5 28.6 136 19.8 145 11.4 149.5 11 152.1 11.5 152.7 13 152.5 15.5 150 22 149.2 26.5 149.1 80.5 -2 80.5Z"/>
<path fill="#00ea9c" d="M-2 -2 136.1 -2 136.3 1 137.4 5.5 137 7 133.6 11.5 124 21.4 120 26.5 118.2 29.5 119.5 30.1 121 29.7 133 22.3 137.5 21.4 137.5 80.5 -2 80.5Z"/>
<path fill="#00ee8a" d="M-2 -2 132.4 -2 132.6 8.5 132.1 11.5 130 14.5 121.9 23.5 117.7 29.5 118 30.5 121 30 130 24.7 131.5 24.3 132.5 25 132.6 80.5 -2 80.5Z"/>
<path fill="#00f277" d="M-2 -2 129.5 -2 129.4 13 127.7 16 118.3 28 117.3 29.5 116.9 31 118 31.3 121 30.4 128.5 26.5 129.5 28 129.5 80.5 -2 80.5Z"/>
<path fill="#00f563" d="M-2 -2 126.4 -2 126.2 16 123.7 20.5 116 31 116.5 31.7 118 31.7 124 29.4 126.2 29.5 126.5 32.5 126.5 80.5 -2 80.5Z"/>
<path fill="#00f74a" d="M-2 -2 124.2 -2 124.2 16 123.9 19 121.1 23.5 115.3 31 116.5 32.6 122.5 30.7 124.1 31 124.3 80.5 -2 80.5Z"/>
<path fill="#00fa31" d="M-2 -2 122.7 -2 122.7 17.5 122.3 20.5 119.5 25.3 114.6 31 114.8 32.5 116.5 33.1 121 31.9 122.6 32.5 122.7 80.5 -2 80.5Z"/>
<path fill="#5af91a" d="M-2 -2 121.2 -2 121.2 19 120.8 22 119.3 25 113.9 31 113.9 32.5 115 33.3 116.5 33.6 119.5 32.5 121.1 34 121.2 80.5 -2 80.5Z"/>
<path fill="#8df70b" d="M-2 -2 120.1 -2 120 22 119.6 23.5 118 26 113.1 31 112.9 32.5 115 33.9 116.5 34.2 119.5 33.7 119.9 34 120.1 80.5 -2 80.5Z"/>
<path fill="#a4f502" d="M-2 -2 118.8 -2 118.5 23.5 118 25 116.5 26.9 112.3 31 112 32.5 115 34.8 118 35 118.6 35.5 118.8 80.5 -2 80.5Z"/>
<path fill="#c0ee04" d="M-2 -2 116.5 -2 116.4 25 115.7 26.5 111.4 31 110.9 32.5 112.1 34 114.8 35.5 116.3 37 116.5 38.5 116.5 80.5 -2 80.5Z"/>
<path fill="#dee509" d="M-2 -2 114.3 -2 114.3 25 114 26.5 110.4 31 109.8 32.5 110.6 34 114 37 114.3 38.5 114.3 80.5 -2 80.5Z"/>
<path fill="#f9d714" d="M-2 -2 112.2 -2 112 26.5 111.5 28 109.2 31 108.5 32.5 109.1 34 111.8 37 112.1 38.5 112.2 80.5 -2 80.5Z"/>
<path fill="#fbce1a" d="M-2 -2 110 -2 109.9 26.5 109.6 28 107.1 32.5 107.3 34 109.6 37 109.9 38.5 110 80.5 -2 80.5Z"/>
<path fill="#fcc11e" d="M-2 -2 107.3 -2 107.3 26.5 107.2 28 105.4 34 106.9 37 107.3 40 107.3 80.5 -2 80.5Z"/>
<path fill="#fdad1e" d="M-2 -2 104.6 -2 104.6 28 104.5 29.5 102.7 35.5 104.3 38.5 104.6 40 104.6 80.5 -2 80.5Z"/>
<path fill="#fda01a" d="M-2 -2 96 -2 96 31 95.6 37 96 43 96 80.5 -2 80.5Z"/>
<path fill="#fd9216" d="M-2 -2 15.8 -2 15.8 80.5 -2 80.5Z"/>
</g></g>
<path d="M341.6 365.9h1.3v1.3h-1.3zM344.5 366.6h1.3v1.3h-1.3zM347.5 365.4h1.3v1.3h-1.3zM350.5 364.2h1.3v1.3h-1.3zM353.5 363.2h1.3v1.3h-1.3zM356.5 362.2h1.3v1.3h-1.3zM359.5 361.2h1.3v1.3h-1.3zM362.5 359.9h1.3v1.3h-1.3zM365.5 358.5h1.3v1.3h-1.3zM368.5 357.2h1.3v1.3h-1.3zM371.4 355.7h1.3v1.3h-1.3zM374.4 354.3h1.3v1.3h-1.3zM377.4 352.8h1.3v1.3h-1.3zM380.4 352.5h1.3v1.3h-1.3zM383.4 351.8h1.3v1.3h-1.3zM386.4 350.5h1.3v1.3h-1.3zM389.4 349.2h1.3v1.3h-1.3zM392.4 347.4h1.3v1.3h-1.3zM395.4 345.5h1.3v1.3h-1.3zM398.4 343.9h1.3v1.3h-1.3zM401.4 342.9h1.3v1.3h-1.3zM404.3 342.3h1.3v1.3h-1.3zM407.3 341.5h1.3v1.3h-1.3zM410.3 339.7h1.3v1.3h-1.3zM413.3 337.6h1.3v1.3h-1.3zM416.3 336.9h1.3v1.3h-1.3zM419.3 336.5h1.3v1.3h-1.3zM422.3 336.0h1.3v1.3h-1.3zM425.3 335.5h1.3v1.3h-1.3zM428.3 335.0h1.3v1.3h-1.3zM431.2 334.3h1.3v1.3h-1.3zM434.2 333.6h1.3v1.3h-1.3zM437.2 330.1h1.3v1.3h-1.3zM440.2 329.1h1.3v1.3h-1.3zM443.2 328.3h1.3v1.3h-1.3zM446.2 326.9h1.3v1.3h-1.3zM449.2 325.5h1.3v1.3h-1.3zM452.2 325.0h1.3v1.3h-1.3zM455.2 324.5h1.3v1.3h-1.3zM458.2 323.6h1.3v1.3h-1.3zM461.2 321.2h1.3v1.3h-1.3zM464.1 318.6h1.3v1.3h-1.3zM467.1 316.0h1.3v1.3h-1.3zM470.1 313.4h1.3v1.3h-1.3zM473.1 310.9h1.3v1.3h-1.3zM476.1 308.7h1.3v1.3h-1.3zM479.1 306.1h1.3v1.3h-1.3zM482.1 303.2h1.3v1.3h-1.3zM485.1 300.7h1.3v1.3h-1.3zM488.1 299.5h1.3v1.3h-1.3zM491.1 299.0h1.3v1.3h-1.3zM494.0 298.6h1.3v1.3h-1.3zM497.0 298.1h1.3v1.3h-1.3zM500.0 297.6h1.3v1.3h-1.3zM503.0 297.0h1.3v1.3h-1.3zM506.0 296.2h1.3v1.3h-1.3zM509.0 295.3h1.3v1.3h-1.3zM512.0 294.3h1.3v1.3h-1.3zM515.0 294.4h1.3v1.3h-1.3zM518.0 294.9h1.3v1.3h-1.3zM521.0 295.7h1.3v1.3h-1.3zM523.9 296.4h1.3v1.3h-1.3zM526.9 297.1h1.3v1.3h-1.3zM529.9 297.8h1.3v1.3h-1.3z" fill="#000"/>
<clipPath id="cpg"><polygon points="0.0,73.2 2.8,74.0 5.8,72.8 8.8,71.6 17.8,68.6 26.8,64.6 35.8,60.2 40.8,59.6 47.8,56.6 55.8,51.6 59.3,50.3 65.1,49.2 69.4,46.7 72.3,44.5 78.2,43.8 86.9,42.3 92.7,40.9 95.9,37.2 101.4,35.8 107.3,32.9 116.0,31.4 118.9,29.2 124.7,24.1 130.5,19.1 136.3,14.7 140.3,10.7 144.6,7.1 151.9,6.0 160.6,4.6 166.4,3.0 170.8,1.5 175.2,2.0 181.0,3.4 189.0,5.3 189.0,13.6 186.8,13.6 186.8,16.3 183.9,16.3 183.9,18.2 181.0,18.2 181.0,21.1 178.6,21.1 178.6,21.5 176.1,21.5 176.1,23.4 173.7,23.4 173.7,24.3 171.3,24.3 171.3,25.1 168.8,25.1 168.8,26.9 166.4,26.9 166.4,27.5 164.0,27.5 164.0,28.7 161.6,28.7 161.6,29.0 159.2,29.0 159.2,29.7 156.8,29.7 156.8,31.2 154.3,31.2 154.3,32.7 151.9,32.7 151.9,32.7 149.0,32.7 149.0,35.0 146.6,35.0 146.6,36.5 144.1,36.5 144.1,38.0 141.7,38.0 141.7,38.4 139.3,38.4 139.3,39.0 136.8,39.0 136.8,40.7 134.4,40.7 134.4,40.3 130.5,40.3 130.5,41.7 127.6,41.7 127.6,41.4 124.7,41.4 124.7,41.7 120.3,41.7 120.3,40.1 118.9,40.1 118.9,41.6 116.0,41.6 116.0,42.5 113.1,42.5 113.1,41.7 110.2,41.7 110.2,42.4 107.5,42.4 107.5,42.8 104.9,42.8 104.9,42.8 102.2,42.8 102.2,43.4 101.4,43.4 101.4,45.4 98.5,45.4 98.5,46.4 95.6,46.4 95.6,47.7 92.7,47.7 92.7,48.7 89.8,48.7 89.8,48.7 86.9,48.7 86.9,48.9 84.5,48.9 84.5,48.8 82.0,48.8 82.0,48.1 79.6,48.1 79.6,47.4 77.2,47.4 77.2,47.8 74.8,47.8 74.8,47.3 72.3,47.3 72.3,48.5 69.4,48.5 69.4,50.1 66.5,50.1 66.5,51.1 63.8,51.1 63.8,52.5 60.8,52.5 60.8,54.1 57.8,54.1 57.8,55.3 55.3,55.3 55.3,57.7 52.8,57.7 52.8,57.9 50.3,57.9 50.3,59.7 47.8,59.7 47.8,61.6 45.5,61.6 45.5,61.7 43.1,61.7 43.1,63.2 40.8,63.2 40.8,63.6 38.3,63.6 38.3,65.1 35.8,65.1 35.8,66.0 32.8,66.0 32.8,68.2 30.3,68.2 30.3,69.9 27.8,69.9 27.8,70.3 25.3,70.3 25.3,72.4 22.8,72.4 22.8,73.7 20.3,73.7 20.3,75.0 17.8,75.0 17.8,76.1 15.1,76.1 15.1,77.4 12.5,77.4 12.5,78.3 9.8,78.3 9.8,78.4 5.8,78.4 5.8,78.8 1.8,78.8 1.8,76.5 0.0,76.5 0.0,74.9"/></clipPath>
<g transform="translate(342.2 424.9)" clip-path="url(#cpg)">
<g filter="url(#blur)"><rect x="-7.0" y="-7.0" width="203.5" height="92.5" fill="#440a52"/>
<path fill="#3c1f8e" d="M-2 -2 191.5 -2 191.5 5.1 187 3.7 182.5 3.7 175 4.2 173.5 4.8 172.9 5.5 175.2 7 178 7.9 182.5 10.3 187 11 191.5 10.7 191.5 80.5 -2 80.5ZM130 19 131.5 19.1 131.5 18.2ZM133 16.9 131.8 17.5 133 17.8 133.4 17.5ZM134.5 15.7 133.9 16 134.5 16.4 135 16Z"/>
<path fill="#352caf" d="M-2 -2 191.5 -2 191.5 4.6 187 3.3 175 3.6 172.1 4 171.5 5.5 173.9 7 182.5 10.7 187 11.7 191.5 11.4 191.5 80.5 -2 80.5ZM128.5 20.3 128.5 20.9 129.7 20.5ZM134.5 15.3 129.7 19 130 20.3 135.5 16ZM136 14.3 135.6 14.5 136 15.2 136.4 14.5Z"/>
<path fill="#303dc9" d="M-2 -2 191.5 -2 191.5 4.2 188.5 3.2 185.5 2.9 173.5 3.2 170 4 170.2 5.5 172.7 7 182.5 11 187 12.1 191.5 12 191.5 80.5 -2 80.5ZM127 21.8 127 22.3 127.7 22ZM136 14 133 15.9 129.5 19 128 20.5 128.5 21.5 136 16 137 14.5ZM137.5 12.9 137.5 13.5 137.8 13Z"/>
<path fill="#2c52dd" d="M-2 -2 191.5 -2 191.5 3.5 187 2.6 175 2.7 170.5 3.1 168.2 4 168.9 5.5 171.6 7 181 10.8 185.5 12.2 191.5 12.6 191.5 80.5 -2 80.5ZM137.5 12.6 133 15.7 129.2 19 126.5 22 127 22.7 128.5 22 136 16.2 138.4 13Z"/>
<path fill="#2568ea" d="M-2 -2 191.5 -2 191.5 2.9 185.5 2.1 173.5 2.3 169 2.8 166.6 4 167.7 5.5 170.5 7 182.5 11.7 185.5 12.6 191.5 13.4 191.5 80.5 -2 80.5ZM139 11.2 130.6 17.5 125.1 23.5 125.5 23.9 128.5 22.2 136 16.5 139 13 139.6 11.5Z"/>
<path fill="#167cf3" d="M-2 -2 191.5 -2 191.5 1.9 185.5 1.5 170.5 2 166.8 2.5 165.1 4 166.4 5.5 169.3 7 182.5 12.2 191.5 14.3 191.5 80.5 -2 80.5ZM139 10.8 128.7 19 124.7 23.5 125.5 24.3 127 23.6 136 16.7 140.3 11.5ZM140.5 9.8 140.2 10 140.5 10.9 140.9 10Z"/>
<path fill="#0a8efa" d="M-2 -2 191.5 -2 191.5 -0.4 190 0.3 182.5 1.2 167.5 1.8 164.5 2.5 163.7 4 165.2 5.5 168.1 7 185.5 13.9 188 14.5 190.8 16 191.5 17 191.5 80.5 -2 80.5ZM140.5 9.4 130.1 17.5 125.5 22 123.6 25 124 25.4 127 23.8 136 16.9 141.7 10Z"/>
<path fill="#069cf9" d="M-2 -2 187.3 -2 185.8 -0.5 182.5 0.3 167.5 1.2 164.5 1.7 162.6 2.5 162.3 4 164 5.5 166.8 7 178.6 11.5 184.8 14.5 186.7 16 187.4 17.5 187.6 80.5 -2 80.5ZM142 8.2 139 10.2 130 17.3 125.3 22 123.2 25 124 25.7 125.5 25 136 17.1 142.3 10 143 8.5Z"/>
<path fill="#03aaf9" d="M-2 -2 183.6 -2 181 -0.4 166 0.7 163 1.3 160.8 2.5 160.8 4 162.7 5.5 166 7.2 180.1 13 182.4 14.5 183.6 16 184.1 20.5 184.1 80.5 -2 80.5ZM142 7.8 130 17.1 123.8 23.5 122.2 26.5 122.5 26.7 125.5 25.3 136 17.4 143.8 8.5 143.5 7Z"/>
<path fill="#00b8f8" d="M-2 -2 180.2 -2 178 -1 175.8 -0.5 163 0.5 161.2 1 158.9 2.5 159.2 4 161.3 5.5 178.1 13 179.9 14.5 180.7 16 181 20.5 181 80.5 -2 80.5ZM143.5 6.5 140.5 8.3 130 16.9 123.6 23.5 121.7 26.5 122.5 27 125.5 25.5 136 17.6 145.7 7 145 6.4Z"/>
<path fill="#00c6ea" d="M-2 -2 176.2 -2 170.5 -0.9 161.5 0.1 158.4 1 156.8 2.5 157.2 4 159.6 5.5 173.1 11.5 175.6 13 177.2 14.5 177.8 16 178 80.5 -2 80.5ZM145 5.4 140.5 8 130 16.7 124.7 22 121.2 26.5 122.5 27.4 124 26.7 136 18 143.5 9.8 147 7 146.5 6.3Z"/>
<path fill="#00d3db" d="M-2 -2 171.2 -2 163 -1.1 158.5 -0.2 155.6 1 154.5 2.5 154.6 4 155.5 4.6 170.9 11.5 172.9 13 173.9 14.5 174.4 19 174.4 80.5 -2 80.5ZM145 4.9 140.5 7.6 130 16.4 123.1 23.5 120.9 26.5 120.5 28 121 28.3 124 27 134.5 19.4 145 9 148.5 7 148.4 5.5Z"/>
<path fill="#00ddc5" d="M-2 -2 162.7 -2 155.1 -0.5 152.8 1 151 3.6 150.2 4 145 4.3 143.5 5 128.5 17.7 122.9 23.5 120.6 26.5 120 28 121 28.7 125.5 26.2 136 18.6 145 9.5 152.5 6 155.5 6.2 158.5 7 165 10 169.7 13 170.5 14.5 170.7 17.5 170.7 80.5 -2 80.5Z"/>
<path fill="#00e5ae" d="M-2 -2 154.5 -2 150.8 -0.5 148.6 2.5 145 3.4 140.5 6.8 125.5 20.3 121.4 25 119.5 28 121 29.1 127 25.5 136 18.9 145 10 151 8 155.5 7.6 158.9 8.5 161.7 10 163.5 11.5 164.5 13 164.9 16 164.9 80.5 -2 80.5Z"/>
<path fill="#00ea9c" d="M-2 -2 147.5 -2 145.8 -0.5 144.4 2.5 125.5 20 120.1 26.5 119.2 28 118.9 29.5 119.5 29.8 122.5 28.7 136 19.6 140.8 14.5 145 10.8 148 9.8 152.5 9.2 156.2 10 157.6 11.5 158.1 14.5 157.1 26.5 157.1 80.5 -2 80.5Z"/>
<path fill="#00ee8a" d="M-2 -2 137.6 -2 137.8 1 139.3 4 139.1 5.5 124 21.3 121 24.9 118.1 29.5 119.5 30.2 121 29.8 125.5 27.3 130.9 23.5 136 20.9 138.2 19 143.5 13 145 12 146.5 11.5 149.5 11.4 151 13 151 14.5 149.5 17.4 148 18.9 144.2 20.5 142.2 22 141.1 25 140.9 80.5 -2 80.5Z"/>
<path fill="#00f277" d="M-2 -2 132.1 -2 132.3 8.5 131.9 11.5 129.8 14.5 121.8 23.5 117.6 29.5 118 30.9 121 30.2 130 24.9 131.5 24.6 132.1 25 132.3 80.5 -2 80.5Z"/>
<path fill="#00f563" d="M-2 -2 128.4 -2 128.5 11.5 128.1 14.5 118.2 28 116.4 31 118 31.4 121 30.6 127 27.8 128.3 28 128.5 80.5 -2 80.5Z"/>
<path fill="#00f74a" d="M-2 -2 125 -2 124.8 17.5 122.3 22 115.7 31 116.5 32.1 124 30.2 124.9 31 125 80.5 -2 80.5Z"/>
<path fill="#00fa31" d="M-2 -2 123 -2 123 17.5 122.5 20.5 119.5 25.4 114.9 31 115.3 32.5 116.5 32.9 121 31.8 122.5 31.8 122.9 32.5 123 80.5 -2 80.5Z"/>
<path fill="#5af91a" d="M-2 -2 121.2 -2 121.2 19 120.8 22 119.4 25 116.5 28.6 114 31 114 32.5 115 33.1 116.5 33.4 120 32.5 121.1 34 121.2 80.5 -2 80.5Z"/>
<path fill="#8df70b" d="M-2 -2 120.1 -2 120 22 119.6 23.5 118 26.1 116.5 28 113 31 112.8 32.5 115 33.9 119.5 33.6 119.9 34 120.1 80.5 -2 80.5Z"/>
<path fill="#a4f502" d="M-2 -2 118.8 -2 118.5 23.5 118 25 116.9 26.5 112 31 111.5 32.5 113.5 34.1 115 34.8 118 34.9 118.6 35.5 118.8 80.5 -2 80.5Z"/>
<path fill="#c0ee04" d="M-2 -2 116.5 -2 116.3 25 115.6 26.5 110.7 31 110.2 32.5 111.2 34 114.4 35.5 116.3 37 116.5 38.4 116.5 80.5 -2 80.5Z"/>
<path fill="#dee509" d="M-2 -2 113.4 -2 113.4 25 113.1 26.5 109.4 31 108.8 32.5 109.4 34 113 37 113.4 38.5 113.4 80.5 -2 80.5Z"/>
<path fill="#f9d714" d="M-2 -2 110.2 -2 110.1 26.5 109.7 28 107.3 32.5 107.5 34 109.8 37 110.1 38.5 110.2 80.5 -2 80.5Z"/>
<path fill="#fbce1a" d="M-2 -2 107.4 -2 107.4 26.5 105.6 34 107.3 38.5 107.4 80.5 -2 80.5Z"/>
<path fill="#fcc11e" d="M-2 -2 104.7 -2 104.7 28 104.5 30 103.1 34 103 35.5 104.5 38.4 104.7 40 104.7 80.5 -2 80.5Z"/>
<path fill="#fdad1e" d="M-2 -2 96.3 -2 96.3 31 95.9 37 96.3 43 96.3 80.5 -2 80.5Z"/>
<path fill="#fda01a" d="M-2 -2 16.1 -2 16.1 80.5 -2 80.5Z"/>
</g></g>
<path d="M341.6 497.4h1.3v1.3h-1.3zM344.5 498.2h1.3v1.3h-1.3zM347.5 497.0h1.3v1.3h-1.3zM350.5 495.8h1.3v1.3h-1.3zM353.5 494.8h1.3v1.3h-1.3zM356.5 493.8h1.3v1.3h-1.3zM359.5 492.8h1.3v1.3h-1.3zM362.5 491.5h1.3v1.3h-1.3zM365.5 490.1h1.3v1.3h-1.3zM368.5 488.8h1.3v1.3h-1.3zM371.4 487.3h1.3v1.3h-1.3zM374.4 485.9h1.3v1.3h-1.3zM377.4 484.4h1.3v1.3h-1.3zM380.4 484.1h1.3v1.3h-1.3zM383.4 483.4h1.3v1.3h-1.3zM386.4 482.1h1.3v1.3h-1.3zM389.4 480.8h1.3v1.3h-1.3zM392.4 479.0h1.3v1.3h-1.3zM395.4 477.1h1.3v1.3h-1.3zM398.4 475.5h1.3v1.3h-1.3zM401.4 474.5h1.3v1.3h-1.3zM404.3 473.9h1.3v1.3h-1.3zM407.3 473.1h1.3v1.3h-1.3zM410.3 471.3h1.3v1.3h-1.3zM413.3 469.2h1.3v1.3h-1.3zM416.3 468.5h1.3v1.3h-1.3zM419.3 468.1h1.3v1.3h-1.3zM422.3 467.6h1.3v1.3h-1.3zM425.3 467.1h1.3v1.3h-1.3zM428.3 466.6h1.3v1.3h-1.3zM431.2 465.9h1.3v1.3h-1.3zM434.2 465.2h1.3v1.3h-1.3zM437.2 461.7h1.3v1.3h-1.3zM440.2 460.7h1.3v1.3h-1.3zM443.2 459.9h1.3v1.3h-1.3zM446.2 458.5h1.3v1.3h-1.3zM449.2 457.1h1.3v1.3h-1.3zM452.2 456.6h1.3v1.3h-1.3zM455.2 456.1h1.3v1.3h-1.3zM458.2 455.2h1.3v1.3h-1.3zM461.2 452.8h1.3v1.3h-1.3zM464.1 450.2h1.3v1.3h-1.3zM467.1 447.6h1.3v1.3h-1.3zM470.1 445.0h1.3v1.3h-1.3zM473.1 442.5h1.3v1.3h-1.3zM476.1 440.3h1.3v1.3h-1.3zM479.1 437.7h1.3v1.3h-1.3zM482.1 434.8h1.3v1.3h-1.3zM485.1 432.3h1.3v1.3h-1.3zM488.1 431.1h1.3v1.3h-1.3zM491.1 430.6h1.3v1.3h-1.3zM494.0 430.2h1.3v1.3h-1.3zM497.0 429.7h1.3v1.3h-1.3zM500.0 429.2h1.3v1.3h-1.3zM503.0 428.6h1.3v1.3h-1.3zM506.0 427.8h1.3v1.3h-1.3zM509.0 426.9h1.3v1.3h-1.3zM512.0 425.9h1.3v1.3h-1.3zM515.0 426.0h1.3v1.3h-1.3zM518.0 426.5h1.3v1.3h-1.3zM521.0 427.3h1.3v1.3h-1.3zM523.9 428.0h1.3v1.3h-1.3zM526.9 428.7h1.3v1.3h-1.3zM529.9 429.4h1.3v1.3h-1.3z" fill="#000"/>
<clipPath id="cph"><polygon points="0.0,73.2 2.8,74.0 5.8,72.8 8.8,71.6 17.8,68.6 26.8,64.6 35.8,60.2 40.8,59.6 47.8,56.6 55.8,51.6 59.3,50.3 65.1,49.2 69.4,46.7 72.3,44.5 78.2,43.8 86.9,42.3 92.7,40.9 95.9,37.2 101.4,35.8 107.3,32.9 116.0,31.4 118.9,29.2 124.7,24.1 130.5,19.1 136.3,14.7 140.3,10.7 144.6,7.1 151.9,6.0 160.6,4.6 166.4,3.0 170.8,1.5 175.2,2.0 181.0,3.4 189.0,5.3 189.0,13.6 186.8,13.6 186.8,16.1 183.9,16.1 183.9,19.3 181.0,19.3 181.0,20.4 178.6,20.4 178.6,22.4 176.1,22.4 176.1,22.7 173.7,22.7 173.7,24.1 171.3,24.1 171.3,26.4 168.8,26.4 168.8,26.5 166.4,26.5 166.4,28.3 164.0,28.3 164.0,28.8 161.6,28.8 161.6,29.5 159.2,29.5 159.2,30.3 156.8,30.3 156.8,30.8 154.3,30.8 154.3,32.7 151.9,32.7 151.9,32.6 149.0,32.6 149.0,35.0 146.6,35.0 146.6,35.7 144.1,35.7 144.1,37.0 141.7,37.0 141.7,38.2 139.3,38.2 139.3,39.7 136.8,39.7 136.8,39.9 134.4,39.9 134.4,40.4 130.5,40.4 130.5,40.9 127.6,40.9 127.6,42.4 124.7,42.4 124.7,41.6 120.3,41.6 120.3,40.8 118.9,40.8 118.9,41.7 116.0,41.7 116.0,42.3 113.1,42.3 113.1,41.9 110.2,41.9 110.2,42.6 107.5,42.6 107.5,42.6 104.9,42.6 104.9,43.2 102.2,43.2 102.2,43.9 101.4,43.9 101.4,46.1 98.5,46.1 98.5,46.5 95.6,46.5 95.6,47.5 92.7,47.5 92.7,49.1 89.8,49.1 89.8,48.8 86.9,48.8 86.9,48.8 84.5,48.8 84.5,49.3 82.0,49.3 82.0,48.3 79.6,48.3 79.6,48.0 77.2,48.0 77.2,47.9 74.8,47.9 74.8,46.7 72.3,46.7 72.3,48.7 69.4,48.7 69.4,50.5 66.5,50.5 66.5,50.6 63.8,50.6 63.8,52.4 60.8,52.4 60.8,53.2 57.8,53.2 57.8,55.9 55.3,55.9 55.3,57.3 52.8,57.3 52.8,59.0 50.3,59.0 50.3,60.3 47.8,60.3 47.8,61.2 45.5,61.2 45.5,61.8 43.1,61.8 43.1,62.7 40.8,62.7 40.8,64.2 38.3,64.2 38.3,64.9 35.8,64.9 35.8,65.0 32.8,65.0 32.8,68.7 30.3,68.7 30.3,69.4 27.8,69.4 27.8,70.9 25.3,70.9 25.3,71.7 22.8,71.7 22.8,73.2 20.3,73.2 20.3,74.2 17.8,74.2 17.8,76.0 15.1,76.0 15.1,76.6 12.5,76.6 12.5,77.6 9.8,77.6 9.8,78.2 5.8,78.2 5.8,79.1 1.8,79.1 1.8,77.6 0.0,77.6 0.0,74.1"/></clipPath>
<g transform="translate(342.2 556.6)" clip-path="url(#cph)">
<g filter="url(#blur)"><rect x="-7.0" y="-7.0" width="203.5" height="92.5" fill="#440a52"/>
<path fill="#3c1f8e" d="M-2 -2 191.5 -2 191.5 80.5 -2 80.5ZM166 3.9 166.7 5.5 167.5 5.8 171.2 5.5 171.2 4 170.5 3.6 167.5 3.4Z"/>
<path fill="#352caf" d="M-2 -2 191.5 -2 191.5 80.5 -2 80.5ZM166 3.5 165.5 4 165.9 5.5 167.5 6.2 170.5 6.2 172 5.5 172 4 170.5 3.2 167.5 2.8Z"/>
<path fill="#303dc9" d="M-2 -2 191.5 -2 191.5 7.3 185.5 5.8 184 6.1 182.1 7 185.5 8.7 191.5 9.1 191.5 80.5 -2 80.5ZM167.5 2.4 166 3 165.1 4 165.5 5.5 166 5.9 169 6.7 170.5 6.5 173 5.5 172.8 4 172 3.6 169.7 2.5Z"/>
<path fill="#2c52dd" d="M-2 -2 191.5 -2 191.5 5.9 185.5 4.9 179.4 5.5 179.5 7 182.4 8.5 187 10 191.5 10.6 191.5 80.5 -2 80.5ZM167.5 2.1 166 2.6 164.6 4 165.1 5.5 166 6.2 167.5 6.8 169.5 7 174.5 5.5 173.6 4 170.9 2.5Z"/>
<path fill="#2568ea" d="M-2 -2 191.5 -2 191.5 4.8 185.5 4.1 176.5 4.8 171.8 2.5 169 1.8 166 2.2 164.2 4 164.7 5.5 167.5 7.1 170.5 7.2 175 6.3 176.5 6.5 185.5 10.4 191.5 11.7 191.5 80.5 -2 80.5ZM128.5 20.4 128.8 20.5ZM131.5 17.5 129.9 19 130 19.7 131.5 19.1 133.5 17.5 133 16.8ZM134.5 15.6 133.8 16 134.5 16.4 135 16Z"/>
<path fill="#167cf3" d="M-2 -2 191.5 -2 191.5 3.6 185.5 3.3 176.5 3.8 169 1.6 166 1.9 164.9 2.5 163.8 4 164.5 5.8 166 6.9 167.5 7.4 175 7.2 176.5 7.5 185.5 11.2 191.5 12.9 191.5 80.5 -2 80.5ZM127 21.9 127 22.2 127.4 22ZM134.5 15.3 129.6 19 128.1 20.5 128.5 21.3 130.1 20.5 135.6 16ZM136 14.3 135.6 14.5 136 15.2 136.4 14.5Z"/>
<path fill="#0a8efa" d="M-2 -2 191.5 -2 191.5 1.9 190 2.2 178 3.2 175 2.9 170.5 1.5 167.5 1.3 164.5 2.4 163.4 4 163.8 5.5 166 7.2 169 7.9 173.5 7.7 176.5 8.2 191.5 14.5 191.5 80.5 -2 80.5ZM136 14 133 15.8 129.3 19 126.5 22 127 22.7 128.5 22 136 16 137 14.5ZM137.5 12.9 137.5 13.4Z"/>
<path fill="#069cf9" d="M-2 -2 189.5 -2 189 -0.5 188.5 -0.1 186.6 1 184 1.7 178 2.6 170.5 1.2 167.5 1.1 164.5 2 163.8 2.5 163 4 163.4 5.5 166 7.5 169 8.1 175 8.4 182.7 11.5 187.5 14.5 188.9 16 189.5 17.5 189.6 80.5 -2 80.5ZM137.5 12.6 130.6 17.5 125 23.5 125.5 24 127 23.2 134.7 17.5 137.6 14.5 138.3 13Z"/>
<path fill="#03aaf9" d="M-2 -2 185.4 -2 184.9 -0.5 182.5 1.1 176.5 1.8 170.5 0.8 167.5 0.7 164.5 1.6 163.2 2.5 162.5 4 163 5.5 164.5 7 166 7.8 175 9 181 11.5 183.3 13 184.7 14.5 185.3 16 185.6 80.5 -2 80.5ZM124 24.6 123.7 25 124 25.2 124.4 25ZM139 11.2 130.3 17.5 124.6 23.5 125.5 24.4 127 23.6 135 17.5 138.9 13 139.5 11.5Z"/>
<path fill="#00b8f8" d="M-2 -2 183 -2 182.2 -0.5 178 1.1 175 1.1 169 0.3 166 0.6 163 2.2 162 4 163 6 164.5 7.4 166 8.1 175 9.6 179.3 11.5 181.4 13 182.6 14.5 183.1 16 183.3 80.5 -2 80.5ZM139 10.8 130 17.5 125.4 22 123.2 25 124 25.6 125.5 24.8 135.3 17.5 138 14.5 140.1 11.5ZM140.5 9.9 140.5 10.4Z"/>
<path fill="#00c6ea" d="M-2 -2 180.6 -2 179.4 -0.5 178 0.1 175 0.4 169 -0.1 166 0.3 163 1.6 162 2.5 161.6 4 162 5.5 164.5 7.8 167.5 8.9 174.1 10 177.5 11.5 179.5 13 180.5 14.5 180.9 16 181 80.5 -2 80.5ZM140.5 9.5 130 17.3 123.8 23.5 122 26.5 122.5 26.8 125.5 25.1 136 17.1 140.6 11.5 141.4 10Z"/>
<path fill="#00d3db" d="M-2 -2 178.2 -2 175.2 -0.5 167.5 -0.3 164.5 0.3 161.5 2.3 160.9 4 161.5 5.5 162.8 7 164.5 8.2 167.5 9.3 171.7 10 175.4 11.5 177.4 13 178.3 14.5 178.7 19 178.7 80.5 -2 80.5ZM142 8.3 139 10.1 130 17 124.9 22 121.4 26.5 122.5 27.2 124 26.4 135.8 17.5 142.1 10 142.5 8.5Z"/>
<path fill="#00ddc5" d="M-2 -2 174.6 -2 167.5 -0.9 163 0.4 160.4 2.5 160.2 4 160.8 5.5 163 7.7 166 9.4 173.1 11.5 174.8 13 175.6 14.5 175.9 19 175.9 80.5 -2 80.5ZM142 7.8 139 9.7 128.5 18.2 122 25 120.9 26.5 120.6 28 121 28.3 124 26.7 136 17.6 143.6 8.5 143.5 7.4Z"/>
<path fill="#00e5ae" d="M-2 -2 170.2 -2 166 -1.3 161.5 0.5 159.2 2.5 159.1 4 161.4 7 164.5 9.3 170.6 11.5 172.1 13 172.7 14.5 172.9 80.5 -2 80.5ZM143.5 6.5 140.5 8.2 130 16.5 121.7 25 120 28 121 28.7 122.5 27.9 136 18 145.4 7 145 6.5Z"/>
<path fill="#00ea9c" d="M-2 -2 165.7 -2 163 -1.2 158.7 1 157.3 2.5 157.4 4 158.8 5.5 163 9.1 167.6 11.5 169.2 13 169.7 14.5 169.8 80.5 -2 80.5ZM145 5.3 140.5 7.8 130 16.3 122.8 23.5 119.5 28 121 29.2 122.5 28.3 136 18.3 143.5 9.6 146.6 7 145.7 5.5Z"/>
<path fill="#00ee8a" d="M-2 -2 162.3 -2 155.5 1 154.5 2.5 154.4 4 160 7.6 164.7 11.5 165.7 13 166 14.5 166.1 80.5 -2 80.5ZM143.5 5.3 133 13.4 125.5 20.3 121 25.2 119.1 28 118.8 29.5 119.5 29.9 121 29.6 122.5 28.7 134.5 20 137.1 17.5 143.5 10.1 145 8.7 148 7 148.5 5.5 145 4.6Z"/>
<path fill="#00f277" d="M-2 -2 157.1 -2 153.3 -0.5 151.8 1 151 2.6 149.5 3.5 148 3.9 145 3.8 140.5 6.8 130 15.5 125.5 19.9 121 24.7 118 29.5 119.5 30.3 121 30 127 25.9 136 19.2 145 9.2 148 7.8 151 6.7 154 6.5 157 7.3 159.2 8.5 160.8 10 161.8 11.5 162.4 14.5 162.3 80.5 -2 80.5Z"/>
<path fill="#00f563" d="M-2 -2 149.5 -2 147 1 143.5 3.3 135.9 10 134.5 10.8 125.5 19.4 121 24.3 118.4 28 117.5 29.5 117.6 31 121 30.4 133 22 134.5 21.4 137.1 19 140.5 14.4 145 9.7 149.5 8.1 152.5 7.9 155.5 8.5 157.4 10 158.3 11.5 158.6 14.5 158.1 17.5 156.1 23.5 155.5 28 155.5 80.5 -2 80.5Z"/>
<path fill="#00f74a" d="M-2 -2 131.9 -2 132.1 8.5 131.7 11.5 128.2 16 121 23.8 116.2 31 116.5 31.5 118 31.7 121 30.9 130 25 131.8 25 132 28 132 80.5 -2 80.5ZM145.8 10 149.5 9 152.5 9.3 154 10.1 154.9 11.5 155.2 13 154.8 16 153 19 151 20.9 148 22.8 143.5 21.5 140.5 19.1 139.9 17.5 140.3 16 142.4 13 143.6 11.5Z"/>
<path fill="#00fa31" d="M-2 -2 126.3 -2 126.4 13 126 16 125.4 17.5 115.4 31 116.5 32.6 121 31.7 125.5 29.5 126.3 31 126.4 80.5 -2 80.5ZM148.6 10 151 10.4 152.3 11.5 152.8 13 152.7 14.5 152.1 16 150.8 17.5 148 19 146.5 18.8 143.5 17.2 142.6 16 142.5 14.5 143.3 13 145 11.2Z"/>
<path fill="#5af91a" d="M-2 -2 121.5 -2 121.3 20.5 119.5 25 114.5 31 115 32.7 116.5 33.2 119.5 32.3 120.3 32.5 121.4 34 121.5 80.5 -2 80.5ZM147.1 11.5 148.9 11.5 150.2 13 150.1 14.5 148 16.3 146.4 16 144.9 14.5 145 13Z"/>
<path fill="#8df70b" d="M-2 -2 120.1 -2 120 22 119.5 23.9 118 26.3 113.6 31 113.5 32.5 115 33.6 116.5 33.9 119.5 33.5 119.9 34 120.1 80.5 -2 80.5Z"/>
<path fill="#a4f502" d="M-2 -2 118.8 -2 118.5 23.5 118.1 25 116.5 27.2 112.6 31 112.3 32.5 115 34.5 118 34.8 118.6 35.5 118.8 80.5 -2 80.5Z"/>
<path fill="#c0ee04" d="M-2 -2 116.5 -2 116.4 25 114.6 28 111.5 31 111.1 32.5 112.3 34 114.9 35.5 116.4 37 116.5 80.5 -2 80.5Z"/>
<path fill="#dee509" d="M-2 -2 114 -2 113.9 25 113.7 26.5 110.3 31 109.8 32.5 110.6 34 113.7 37 113.9 38.5 114 80.5 -2 80.5Z"/>
<path fill="#f9d714" d="M-2 -2 111.5 -2 111.4 26.5 110.9 28 108.3 32.5 108.7 34 111.1 37 111.4 38.5 111.5 80.5 -2 80.5Z"/>
<path fill="#fbce1a" d="M-2 -2 108.8 -2 108.8 26.5 108.6 28 106.7 32.5 106.8 34 108.5 37 108.8 38.5 108.8 80.5 -2 80.5Z"/>
<path fill="#fcc11e" d="M-2 -2 106.1 -2 106.1 28 104.8 34 106 38.5 106.1 40 106.1 80.5 -2 80.5Z"/>
<path fill="#fdad1e" d="M-2 -2 101.7 -2 101.7 29.5 100.3 35.5 100.4 37 101.7 41.5 101.7 80.5 -2 80.5Z"/>
<path fill="#fda01a" d="M-2 -2 41.8 -2 41.8 80.5 -2 80.5Z"/>
<path fill="#fd9216" d="M0.2 -2 11.8 -2 11.8 80.5 0.2 80.5Z"/>
</g></g>
<path d="M341.6 629.1h1.3v1.3h-1.3zM344.5 629.9h1.3v1.3h-1.3zM347.5 628.7h1.3v1.3h-1.3zM350.5 627.5h1.3v1.3h-1.3zM353.5 626.5h1.3v1.3h-1.3zM356.5 625.5h1.3v1.3h-1.3zM359.5 624.5h1.3v1.3h-1.3zM362.5 623.2h1.3v1.3h-1.3zM365.5 621.8h1.3v1.3h-1.3zM368.5 620.5h1.3v1.3h-1.3zM371.4 619.0h1.3v1.3h-1.3zM374.4 617.6h1.3v1.3h-1.3zM377.4 616.1h1.3v1.3h-1.3zM380.4 615.8h1.3v1.3h-1.3zM383.4 615.1h1.3v1.3h-1.3zM386.4 613.8h1.3v1.3h-1.3zM389.4 612.5h1.3v1.3h-1.3zM392.4 610.7h1.3v1.3h-1.3zM395.4 608.8h1.3v1.3h-1.3zM398.4 607.2h1.3v1.3h-1.3zM401.4 606.2h1.3v1.3h-1.3zM404.3 605.6h1.3v1.3h-1.3zM407.3 604.8h1.3v1.3h-1.3zM410.3 603.0h1.3v1.3h-1.3zM413.3 600.9h1.3v1.3h-1.3zM416.3 600.2h1.3v1.3h-1.3zM419.3 599.8h1.3v1.3h-1.3zM422.3 599.3h1.3v1.3h-1.3zM425.3 598.8h1.3v1.3h-1.3zM428.3 598.3h1.3v1.3h-1.3zM431.2 597.6h1.3v1.3h-1.3zM434.2 596.9h1.3v1.3h-1.3zM437.2 593.4h1.3v1.3h-1.3zM440.2 592.4h1.3v1.3h-1.3zM443.2 591.6h1.3v1.3h-1.3zM446.2 590.2h1.3v1.3h-1.3zM449.2 588.8h1.3v1.3h-1.3zM452.2 588.3h1.3v1.3h-1.3zM455.2 587.8h1.3v1.3h-1.3zM458.2 586.9h1.3v1.3h-1.3zM461.2 584.5h1.3v1.3h-1.3zM464.1 581.9h1.3v1.3h-1.3zM467.1 579.3h1.3v1.3h-1.3zM470.1 576.7h1.3v1.3h-1.3zM473.1 574.2h1.3v1.3h-1.3zM476.1 572.0h1.3v1.3h-1.3zM479.1 569.4h1.3v1.3h-1.3zM482.1 566.5h1.3v1.3h-1.3zM485.1 564.0h1.3v1.3h-1.3zM488.1 562.8h1.3v1.3h-1.3zM491.1 562.3h1.3v1.3h-1.3zM494.0 561.9h1.3v1.3h-1.3zM497.0 561.4h1.3v1.3h-1.3zM500.0 560.9h1.3v1.3h-1.3zM503.0 560.3h1.3v1.3h-1.3zM506.0 559.5h1.3v1.3h-1.3zM509.0 558.6h1.3v1.3h-1.3zM512.0 557.6h1.3v1.3h-1.3zM515.0 557.7h1.3v1.3h-1.3zM518.0 558.2h1.3v1.3h-1.3zM521.0 559.0h1.3v1.3h-1.3zM523.9 559.7h1.3v1.3h-1.3zM526.9 560.4h1.3v1.3h-1.3zM529.9 561.1h1.3v1.3h-1.3z" fill="#000"/>
<circle cx="528" cy="561.5" r="1.4" fill="#fff"/>
<path d="M41.5 42.8V101H259.826" fill="none" stroke="#262626" stroke-width="0.6"/>
<line x1="41.50" x2="41.50" y1="101" y2="103.2" stroke="#262626" stroke-width="0.6"/>
<text x="41.50" y="116.00" font-size="9.2" text-anchor="middle" font-weight="normal" fill="#262626" >0</text>
<line x1="76.10" x2="76.10" y1="101" y2="103.2" stroke="#262626" stroke-width="0.6"/>
<text x="76.10" y="116.00" font-size="9.2" text-anchor="middle" font-weight="normal" fill="#262626" >50</text>
<line x1="110.70" x2="110.70" y1="101" y2="103.2" stroke="#262626" stroke-width="0.6"/>
<text x="110.70" y="116.00" font-size="9.2" text-anchor="middle" font-weight="normal" fill="#262626" >100</text>
<line x1="145.30" x2="145.30" y1="101" y2="103.2" stroke="#262626" stroke-width="0.6"/>
<text x="145.30" y="116.00" font-size="9.2" text-anchor="middle" font-weight="normal" fill="#262626" >150</text>
<line x1="179.90" x2="179.90" y1="101" y2="103.2" stroke="#262626" stroke-width="0.6"/>
<text x="179.90" y="116.00" font-size="9.2" text-anchor="middle" font-weight="normal" fill="#262626" >200</text>
<line x1="214.50" x2="214.50" y1="101" y2="103.2" stroke="#262626" stroke-width="0.6"/>
<text x="214.50" y="116.00" font-size="9.2" text-anchor="middle" font-weight="normal" fill="#262626" >250</text>
<line x1="249.10" x2="249.10" y1="101" y2="103.2" stroke="#262626" stroke-width="0.6"/>
<text x="249.10" y="116.00" font-size="9.2" text-anchor="middle" font-weight="normal" fill="#262626" >300</text>
<line x1="39.3" x2="41.5" y1="42.80" y2="42.80" stroke="#262626" stroke-width="0.6"/>
<text x="35.30" y="45.90" font-size="9.2" text-anchor="end" font-weight="normal" fill="#262626" >400</text>
<line x1="39.3" x2="41.5" y1="76.85" y2="76.85" stroke="#262626" stroke-width="0.6"/>
<text x="35.30" y="79.95" font-size="9.2" text-anchor="end" font-weight="normal" fill="#262626" >350</text>
<text x="150.49" y="128.00" font-size="9.3" text-anchor="middle" font-weight="normal" fill="#262626" >x (m)</text>
<text transform="translate(15.3 71.9) rotate(-90)" font-size="9.3" text-anchor="middle" fill="#262626">height (m)</text>
<path d="M41.5 305.6V363.1H259.826" fill="none" stroke="#262626" stroke-width="0.6"/>
<line x1="41.50" x2="41.50" y1="363.1" y2="365.3" stroke="#262626" stroke-width="0.6"/>
<text x="41.50" y="378.10" font-size="9.2" text-anchor="middle" font-weight="normal" fill="#262626" >0</text>
<line x1="76.10" x2="76.10" y1="363.1" y2="365.3" stroke="#262626" stroke-width="0.6"/>
<text x="76.10" y="378.10" font-size="9.2" text-anchor="middle" font-weight="normal" fill="#262626" >50</text>
<line x1="110.70" x2="110.70" y1="363.1" y2="365.3" stroke="#262626" stroke-width="0.6"/>
<text x="110.70" y="378.10" font-size="9.2" text-anchor="middle" font-weight="normal" fill="#262626" >100</text>
<line x1="145.30" x2="145.30" y1="363.1" y2="365.3" stroke="#262626" stroke-width="0.6"/>
<text x="145.30" y="378.10" font-size="9.2" text-anchor="middle" font-weight="normal" fill="#262626" >150</text>
<line x1="179.90" x2="179.90" y1="363.1" y2="365.3" stroke="#262626" stroke-width="0.6"/>
<text x="179.90" y="378.10" font-size="9.2" text-anchor="middle" font-weight="normal" fill="#262626" >200</text>
<line x1="214.50" x2="214.50" y1="363.1" y2="365.3" stroke="#262626" stroke-width="0.6"/>
<text x="214.50" y="378.10" font-size="9.2" text-anchor="middle" font-weight="normal" fill="#262626" >250</text>
<line x1="249.10" x2="249.10" y1="363.1" y2="365.3" stroke="#262626" stroke-width="0.6"/>
<text x="249.10" y="378.10" font-size="9.2" text-anchor="middle" font-weight="normal" fill="#262626" >300</text>
<line x1="39.3" x2="41.5" y1="305.60" y2="305.60" stroke="#262626" stroke-width="0.6"/>
<text x="35.30" y="308.70" font-size="9.2" text-anchor="end" font-weight="normal" fill="#262626" >400</text>
<line x1="39.3" x2="41.5" y1="339.65" y2="339.65" stroke="#262626" stroke-width="0.6"/>
<text x="35.30" y="342.75" font-size="9.2" text-anchor="end" font-weight="normal" fill="#262626" >350</text>
<text x="150.49" y="390.10" font-size="9.3" text-anchor="middle" font-weight="normal" fill="#262626" >x (m)</text>
<text transform="translate(15.3 334.35) rotate(-90)" font-size="9.3" text-anchor="middle" fill="#262626">height (m)</text>
<path d="M41.5 436.4V494.9H259.826" fill="none" stroke="#262626" stroke-width="0.6"/>
<line x1="41.50" x2="41.50" y1="494.9" y2="497.09999999999997" stroke="#262626" stroke-width="0.6"/>
<text x="41.50" y="509.90" font-size="9.2" text-anchor="middle" font-weight="normal" fill="#262626" >0</text>
<line x1="76.10" x2="76.10" y1="494.9" y2="497.09999999999997" stroke="#262626" stroke-width="0.6"/>
<text x="76.10" y="509.90" font-size="9.2" text-anchor="middle" font-weight="normal" fill="#262626" >50</text>
<line x1="110.70" x2="110.70" y1="494.9" y2="497.09999999999997" stroke="#262626" stroke-width="0.6"/>
<text x="110.70" y="509.90" font-size="9.2" text-anchor="middle" font-weight="normal" fill="#262626" >100</text>
<line x1="145.30" x2="145.30" y1="494.9" y2="497.09999999999997" stroke="#262626" stroke-width="0.6"/>
<text x="145.30" y="509.90" font-size="9.2" text-anchor="middle" font-weight="normal" fill="#262626" >150</text>
<line x1="179.90" x2="179.90" y1="494.9" y2="497.09999999999997" stroke="#262626" stroke-width="0.6"/>
<text x="179.90" y="509.90" font-size="9.2" text-anchor="middle" font-weight="normal" fill="#262626" >200</text>
<line x1="214.50" x2="214.50" y1="494.9" y2="497.09999999999997" stroke="#262626" stroke-width="0.6"/>
<text x="214.50" y="509.90" font-size="9.2" text-anchor="middle" font-weight="normal" fill="#262626" >250</text>
<line x1="249.10" x2="249.10" y1="494.9" y2="497.09999999999997" stroke="#262626" stroke-width="0.6"/>
<text x="249.10" y="509.90" font-size="9.2" text-anchor="middle" font-weight="normal" fill="#262626" >300</text>
<line x1="39.3" x2="41.5" y1="436.40" y2="436.40" stroke="#262626" stroke-width="0.6"/>
<text x="35.30" y="439.50" font-size="9.2" text-anchor="end" font-weight="normal" fill="#262626" >400</text>
<line x1="39.3" x2="41.5" y1="470.45" y2="470.45" stroke="#262626" stroke-width="0.6"/>
<text x="35.30" y="473.55" font-size="9.2" text-anchor="end" font-weight="normal" fill="#262626" >350</text>
<text x="150.49" y="521.90" font-size="9.3" text-anchor="middle" font-weight="normal" fill="#262626" >x (m)</text>
<text transform="translate(15.3 465.65) rotate(-90)" font-size="9.3" text-anchor="middle" fill="#262626">height (m)</text>
<path d="M41.5 568.4V626.4H259.826" fill="none" stroke="#262626" stroke-width="0.6"/>
<line x1="41.50" x2="41.50" y1="626.4" y2="628.6" stroke="#262626" stroke-width="0.6"/>
<text x="41.50" y="641.40" font-size="9.2" text-anchor="middle" font-weight="normal" fill="#262626" >0</text>
<line x1="76.10" x2="76.10" y1="626.4" y2="628.6" stroke="#262626" stroke-width="0.6"/>
<text x="76.10" y="641.40" font-size="9.2" text-anchor="middle" font-weight="normal" fill="#262626" >50</text>
<line x1="110.70" x2="110.70" y1="626.4" y2="628.6" stroke="#262626" stroke-width="0.6"/>
<text x="110.70" y="641.40" font-size="9.2" text-anchor="middle" font-weight="normal" fill="#262626" >100</text>
<line x1="145.30" x2="145.30" y1="626.4" y2="628.6" stroke="#262626" stroke-width="0.6"/>
<text x="145.30" y="641.40" font-size="9.2" text-anchor="middle" font-weight="normal" fill="#262626" >150</text>
<line x1="179.90" x2="179.90" y1="626.4" y2="628.6" stroke="#262626" stroke-width="0.6"/>
<text x="179.90" y="641.40" font-size="9.2" text-anchor="middle" font-weight="normal" fill="#262626" >200</text>
<line x1="214.50" x2="214.50" y1="626.4" y2="628.6" stroke="#262626" stroke-width="0.6"/>
<text x="214.50" y="641.40" font-size="9.2" text-anchor="middle" font-weight="normal" fill="#262626" >250</text>
<line x1="249.10" x2="249.10" y1="626.4" y2="628.6" stroke="#262626" stroke-width="0.6"/>
<text x="249.10" y="641.40" font-size="9.2" text-anchor="middle" font-weight="normal" fill="#262626" >300</text>
<line x1="39.3" x2="41.5" y1="568.40" y2="568.40" stroke="#262626" stroke-width="0.6"/>
<text x="35.30" y="571.50" font-size="9.2" text-anchor="end" font-weight="normal" fill="#262626" >400</text>
<line x1="39.3" x2="41.5" y1="602.45" y2="602.45" stroke="#262626" stroke-width="0.6"/>
<text x="35.30" y="605.55" font-size="9.2" text-anchor="end" font-weight="normal" fill="#262626" >350</text>
<text x="150.49" y="653.40" font-size="9.3" text-anchor="middle" font-weight="normal" fill="#262626" >x (m)</text>
<text transform="translate(15.3 597.4) rotate(-90)" font-size="9.3" text-anchor="middle" fill="#262626">height (m)</text>
<path d="M342.2 30.4V112.3H531.0185" fill="none" stroke="#262626" stroke-width="0.6"/>
<line x1="342.20" x2="342.20" y1="112.3" y2="114.5" stroke="#262626" stroke-width="0.6"/>
<text x="342.20" y="127.30" font-size="9.2" text-anchor="middle" font-weight="normal" fill="#262626" >0</text>
<line x1="372.10" x2="372.10" y1="112.3" y2="114.5" stroke="#262626" stroke-width="0.6"/>
<text x="372.10" y="127.30" font-size="9.2" text-anchor="middle" font-weight="normal" fill="#262626" >20</text>
<line x1="402.00" x2="402.00" y1="112.3" y2="114.5" stroke="#262626" stroke-width="0.6"/>
<text x="402.00" y="127.30" font-size="9.2" text-anchor="middle" font-weight="normal" fill="#262626" >40</text>
<line x1="431.90" x2="431.90" y1="112.3" y2="114.5" stroke="#262626" stroke-width="0.6"/>
<text x="431.90" y="127.30" font-size="9.2" text-anchor="middle" font-weight="normal" fill="#262626" >60</text>
<line x1="461.80" x2="461.80" y1="112.3" y2="114.5" stroke="#262626" stroke-width="0.6"/>
<text x="461.80" y="127.30" font-size="9.2" text-anchor="middle" font-weight="normal" fill="#262626" >80</text>
<line x1="491.70" x2="491.70" y1="112.3" y2="114.5" stroke="#262626" stroke-width="0.6"/>
<text x="491.70" y="127.30" font-size="9.2" text-anchor="middle" font-weight="normal" fill="#262626" >100</text>
<line x1="521.60" x2="521.60" y1="112.3" y2="114.5" stroke="#262626" stroke-width="0.6"/>
<text x="521.60" y="127.30" font-size="9.2" text-anchor="middle" font-weight="normal" fill="#262626" >120</text>
<line x1="340.0" x2="342.2" y1="30.40" y2="30.40" stroke="#262626" stroke-width="0.6"/>
<text x="337.20" y="33.50" font-size="9.2" text-anchor="end" font-weight="normal" fill="#262626" >500</text>
<line x1="340.0" x2="342.2" y1="60.30" y2="60.30" stroke="#262626" stroke-width="0.6"/>
<text x="337.20" y="63.40" font-size="9.2" text-anchor="end" font-weight="normal" fill="#262626" >480</text>
<line x1="340.0" x2="342.2" y1="90.20" y2="90.20" stroke="#262626" stroke-width="0.6"/>
<text x="337.20" y="93.30" font-size="9.2" text-anchor="end" font-weight="normal" fill="#262626" >460</text>
<text x="436.38" y="139.30" font-size="9.3" text-anchor="middle" font-weight="normal" fill="#262626" >x (m)</text>
<text transform="translate(317.8 71.35) rotate(-90)" font-size="9.3" text-anchor="middle" fill="#262626">height (m)</text>
<path d="M342.2 293.3V374.7H531.0185" fill="none" stroke="#262626" stroke-width="0.6"/>
<line x1="342.20" x2="342.20" y1="374.7" y2="376.9" stroke="#262626" stroke-width="0.6"/>
<text x="342.20" y="389.70" font-size="9.2" text-anchor="middle" font-weight="normal" fill="#262626" >0</text>
<line x1="372.10" x2="372.10" y1="374.7" y2="376.9" stroke="#262626" stroke-width="0.6"/>
<text x="372.10" y="389.70" font-size="9.2" text-anchor="middle" font-weight="normal" fill="#262626" >20</text>
<line x1="402.00" x2="402.00" y1="374.7" y2="376.9" stroke="#262626" stroke-width="0.6"/>
<text x="402.00" y="389.70" font-size="9.2" text-anchor="middle" font-weight="normal" fill="#262626" >40</text>
<line x1="431.90" x2="431.90" y1="374.7" y2="376.9" stroke="#262626" stroke-width="0.6"/>
<text x="431.90" y="389.70" font-size="9.2" text-anchor="middle" font-weight="normal" fill="#262626" >60</text>
<line x1="461.80" x2="461.80" y1="374.7" y2="376.9" stroke="#262626" stroke-width="0.6"/>
<text x="461.80" y="389.70" font-size="9.2" text-anchor="middle" font-weight="normal" fill="#262626" >80</text>
<line x1="491.70" x2="491.70" y1="374.7" y2="376.9" stroke="#262626" stroke-width="0.6"/>
<text x="491.70" y="389.70" font-size="9.2" text-anchor="middle" font-weight="normal" fill="#262626" >100</text>
<line x1="521.60" x2="521.60" y1="374.7" y2="376.9" stroke="#262626" stroke-width="0.6"/>
<text x="521.60" y="389.70" font-size="9.2" text-anchor="middle" font-weight="normal" fill="#262626" >120</text>
<line x1="340.0" x2="342.2" y1="293.30" y2="293.30" stroke="#262626" stroke-width="0.6"/>
<text x="337.20" y="296.40" font-size="9.2" text-anchor="end" font-weight="normal" fill="#262626" >500</text>
<line x1="340.0" x2="342.2" y1="323.20" y2="323.20" stroke="#262626" stroke-width="0.6"/>
<text x="337.20" y="326.30" font-size="9.2" text-anchor="end" font-weight="normal" fill="#262626" >480</text>
<line x1="340.0" x2="342.2" y1="353.10" y2="353.10" stroke="#262626" stroke-width="0.6"/>
<text x="337.20" y="356.20" font-size="9.2" text-anchor="end" font-weight="normal" fill="#262626" >460</text>
<text x="436.38" y="401.70" font-size="9.3" text-anchor="middle" font-weight="normal" fill="#262626" >x (m)</text>
<text transform="translate(317.8 334.0) rotate(-90)" font-size="9.3" text-anchor="middle" fill="#262626">height (m)</text>
<path d="M342.2 424.9V506.1H531.0185" fill="none" stroke="#262626" stroke-width="0.6"/>
<line x1="342.20" x2="342.20" y1="506.1" y2="508.3" stroke="#262626" stroke-width="0.6"/>
<text x="342.20" y="521.10" font-size="9.2" text-anchor="middle" font-weight="normal" fill="#262626" >0</text>
<line x1="372.10" x2="372.10" y1="506.1" y2="508.3" stroke="#262626" stroke-width="0.6"/>
<text x="372.10" y="521.10" font-size="9.2" text-anchor="middle" font-weight="normal" fill="#262626" >20</text>
<line x1="402.00" x2="402.00" y1="506.1" y2="508.3" stroke="#262626" stroke-width="0.6"/>
<text x="402.00" y="521.10" font-size="9.2" text-anchor="middle" font-weight="normal" fill="#262626" >40</text>
<line x1="431.90" x2="431.90" y1="506.1" y2="508.3" stroke="#262626" stroke-width="0.6"/>
<text x="431.90" y="521.10" font-size="9.2" text-anchor="middle" font-weight="normal" fill="#262626" >60</text>
<line x1="461.80" x2="461.80" y1="506.1" y2="508.3" stroke="#262626" stroke-width="0.6"/>
<text x="461.80" y="521.10" font-size="9.2" text-anchor="middle" font-weight="normal" fill="#262626" >80</text>
<line x1="491.70" x2="491.70" y1="506.1" y2="508.3" stroke="#262626" stroke-width="0.6"/>
<text x="491.70" y="521.10" font-size="9.2" text-anchor="middle" font-weight="normal" fill="#262626" >100</text>
<line x1="521.60" x2="521.60" y1="506.1" y2="508.3" stroke="#262626" stroke-width="0.6"/>
<text x="521.60" y="521.10" font-size="9.2" text-anchor="middle" font-weight="normal" fill="#262626" >120</text>
<line x1="340.0" x2="342.2" y1="424.90" y2="424.90" stroke="#262626" stroke-width="0.6"/>
<text x="337.20" y="428.00" font-size="9.2" text-anchor="end" font-weight="normal" fill="#262626" >500</text>
<line x1="340.0" x2="342.2" y1="454.80" y2="454.80" stroke="#262626" stroke-width="0.6"/>
<text x="337.20" y="457.90" font-size="9.2" text-anchor="end" font-weight="normal" fill="#262626" >480</text>
<line x1="340.0" x2="342.2" y1="484.70" y2="484.70" stroke="#262626" stroke-width="0.6"/>
<text x="337.20" y="487.80" font-size="9.2" text-anchor="end" font-weight="normal" fill="#262626" >460</text>
<text x="436.38" y="533.10" font-size="9.3" text-anchor="middle" font-weight="normal" fill="#262626" >x (m)</text>
<text transform="translate(317.8 465.5) rotate(-90)" font-size="9.3" text-anchor="middle" fill="#262626">height (m)</text>
<path d="M342.2 556.6V637.5H531.0185" fill="none" stroke="#262626" stroke-width="0.6"/>
<line x1="342.20" x2="342.20" y1="637.5" y2="639.7" stroke="#262626" stroke-width="0.6"/>
<text x="342.20" y="652.50" font-size="9.2" text-anchor="middle" font-weight="normal" fill="#262626" >0</text>
<line x1="372.10" x2="372.10" y1="637.5" y2="639.7" stroke="#262626" stroke-width="0.6"/>
<text x="372.10" y="652.50" font-size="9.2" text-anchor="middle" font-weight="normal" fill="#262626" >20</text>
<line x1="402.00" x2="402.00" y1="637.5" y2="639.7" stroke="#262626" stroke-width="0.6"/>
<text x="402.00" y="652.50" font-size="9.2" text-anchor="middle" font-weight="normal" fill="#262626" >40</text>
<line x1="431.90" x2="431.90" y1="637.5" y2="639.7" stroke="#262626" stroke-width="0.6"/>
<text x="431.90" y="652.50" font-size="9.2" text-anchor="middle" font-weight="normal" fill="#262626" >60</text>
<line x1="461.80" x2="461.80" y1="637.5" y2="639.7" stroke="#262626" stroke-width="0.6"/>
<text x="461.80" y="652.50" font-size="9.2" text-anchor="middle" font-weight="normal" fill="#262626" >80</text>
<line x1="491.70" x2="491.70" y1="637.5" y2="639.7" stroke="#262626" stroke-width="0.6"/>
<text x="491.70" y="652.50" font-size="9.2" text-anchor="middle" font-weight="normal" fill="#262626" >100</text>
<line x1="521.60" x2="521.60" y1="637.5" y2="639.7" stroke="#262626" stroke-width="0.6"/>
<text x="521.60" y="652.50" font-size="9.2" text-anchor="middle" font-weight="normal" fill="#262626" >120</text>
<line x1="340.0" x2="342.2" y1="556.60" y2="556.60" stroke="#262626" stroke-width="0.6"/>
<text x="337.20" y="559.70" font-size="9.2" text-anchor="end" font-weight="normal" fill="#262626" >500</text>
<line x1="340.0" x2="342.2" y1="586.50" y2="586.50" stroke="#262626" stroke-width="0.6"/>
<text x="337.20" y="589.60" font-size="9.2" text-anchor="end" font-weight="normal" fill="#262626" >480</text>
<line x1="340.0" x2="342.2" y1="616.40" y2="616.40" stroke="#262626" stroke-width="0.6"/>
<text x="337.20" y="619.50" font-size="9.2" text-anchor="end" font-weight="normal" fill="#262626" >460</text>
<text x="436.38" y="664.50" font-size="9.3" text-anchor="middle" font-weight="normal" fill="#262626" >x (m)</text>
<text transform="translate(317.8 597.05) rotate(-90)" font-size="9.3" text-anchor="middle" fill="#262626">height (m)</text>
<defs><linearGradient id="cb1" x1="0" x2="1" y1="0" y2="0"><stop offset="0.0000" stop-color="#440a52"/><stop offset="0.0330" stop-color="#3c1e8c"/><stop offset="0.0670" stop-color="#3232be"/><stop offset="0.1000" stop-color="#2d50dc"/><stop offset="0.1200" stop-color="#2864e8"/><stop offset="0.1670" stop-color="#0a8cfa"/><stop offset="0.2400" stop-color="#00b9f8"/><stop offset="0.2900" stop-color="#00d7d7"/><stop offset="0.3330" stop-color="#00e6aa"/><stop offset="0.3600" stop-color="#00ec96"/><stop offset="0.4200" stop-color="#00f564"/><stop offset="0.4700" stop-color="#00fa2d"/><stop offset="0.4800" stop-color="#3cfa23"/><stop offset="0.5000" stop-color="#82f80f"/><stop offset="0.5400" stop-color="#aaf500"/><stop offset="0.5820" stop-color="#e1e40a"/><stop offset="0.6030" stop-color="#fad714"/><stop offset="0.6400" stop-color="#fcc81e"/><stop offset="0.6670" stop-color="#fdaf1e"/><stop offset="0.7020" stop-color="#fd9b19"/><stop offset="0.7620" stop-color="#fd730a"/><stop offset="0.8220" stop-color="#fa5005"/><stop offset="0.8830" stop-color="#eb2305"/><stop offset="0.9330" stop-color="#c80f05"/><stop offset="1.0000" stop-color="#82000a"/></linearGradient></defs>
<rect x="40" y="161.8" width="498" height="14.099999999999994" fill="url(#cb1)" stroke="#262626" stroke-width="0.5" stroke-opacity="0.55"/>
<line x1="40.00" x2="40.00" y1="170.9" y2="175.9" stroke="#262626" stroke-width="0.6"/>
<text transform="translate(40.00 190.60) scale(1.08 1)" font-size="10" text-anchor="middle" font-weight="normal" fill="#262626" >0</text>
<line x1="123.00" x2="123.00" y1="170.9" y2="175.9" stroke="#262626" stroke-width="0.6"/>
<text transform="translate(123.00 190.60) scale(1.08 1)" font-size="10" text-anchor="middle" font-weight="normal" fill="#262626" >0.5</text>
<line x1="206.00" x2="206.00" y1="170.9" y2="175.9" stroke="#262626" stroke-width="0.6"/>
<text transform="translate(206.00 190.60) scale(1.08 1)" font-size="10" text-anchor="middle" font-weight="normal" fill="#262626" >1</text>
<line x1="289.00" x2="289.00" y1="170.9" y2="175.9" stroke="#262626" stroke-width="0.6"/>
<text transform="translate(289.00 190.60) scale(1.08 1)" font-size="10" text-anchor="middle" font-weight="normal" fill="#262626" >1.5</text>
<line x1="372.00" x2="372.00" y1="170.9" y2="175.9" stroke="#262626" stroke-width="0.6"/>
<text transform="translate(372.00 190.60) scale(1.08 1)" font-size="10" text-anchor="middle" font-weight="normal" fill="#262626" >2</text>
<line x1="455.00" x2="455.00" y1="170.9" y2="175.9" stroke="#262626" stroke-width="0.6"/>
<text transform="translate(455.00 190.60) scale(1.08 1)" font-size="10" text-anchor="middle" font-weight="normal" fill="#262626" >2.5</text>
<line x1="538.00" x2="538.00" y1="170.9" y2="175.9" stroke="#262626" stroke-width="0.6"/>
<text transform="translate(538.00 190.60) scale(1.08 1)" font-size="10" text-anchor="middle" font-weight="normal" fill="#262626" >3</text>
<text transform="translate(289.2 206) scale(1.12 1)" font-size="10.5" text-anchor="middle" fill="#262626">log<tspan font-size="8.5" dy="4">10</tspan><tspan dy="-4" font-size="6"> </tspan><tspan font-style="italic" font-size="9">σ</tspan><tspan dy="-1">`</tspan><tspan dy="1"> (mS/m)</tspan></text>
<text transform="translate(234.80 15.40) scale(1.125 1)" font-size="11.4" text-anchor="start" font-weight="bold" fill="#000" >in-phase conductivity</text>
<text transform="translate(203.50 243.60) scale(1.125 1)" font-size="11.4" text-anchor="start" font-weight="bold" fill="#000" >quadrature conductivity</text>
<text transform="translate(148.80 256.00) scale(1.09 1)" font-size="11.4" text-anchor="start" font-weight="bold" fill="#000" >P1</text>
<text transform="translate(150.80 272.40) scale(1.09 1)" font-size="11.4" text-anchor="start" font-weight="bold" fill="#000" >1 Hz</text>
<text transform="translate(427.80 264.40) scale(1.09 1)" font-size="11.4" text-anchor="start" font-weight="bold" fill="#000" >P7</text>
<text transform="translate(430.20 280.60) scale(1.09 1)" font-size="11.4" text-anchor="start" font-weight="bold" fill="#000" >1 Hz</text>
<text transform="translate(131.20 432.40) scale(1.09 1)" font-size="11.4" text-anchor="start" font-weight="bold" fill="#000" >7.5 Hz</text>
<text transform="translate(133.20 561.00) scale(1.15 1)" font-size="11.4" text-anchor="start" font-weight="bold" fill="#000" >25 Hz</text>
<text transform="translate(418.20 420.70) scale(1.09 1)" font-size="11.4" text-anchor="start" font-weight="bold" fill="#000" >7.5 Hz</text>
<text transform="translate(419.20 551.60) scale(1.15 1)" font-size="11.4" text-anchor="start" font-weight="bold" fill="#000" >25 Hz</text>
<text transform="translate(43.80 132.00) scale(1.09 1)" font-size="15" text-anchor="start" font-weight="bold" fill="#000" >(a)</text>
<text transform="translate(347.70 141.70) scale(1.09 1)" font-size="15" text-anchor="start" font-weight="bold" fill="#000" >(e)</text>
<text transform="translate(45.20 396.60) scale(1.09 1)" font-size="15" text-anchor="start" font-weight="bold" fill="#000" >(b)</text>
<text transform="translate(346.00 403.70) scale(1.09 1)" font-size="15" text-anchor="start" font-weight="bold" fill="#000" >(f)</text>
<text transform="translate(46.40 531.50) scale(1.09 1)" font-size="15" text-anchor="start" font-weight="bold" fill="#000" >(c)</text>
<text transform="translate(345.20 533.30) scale(1.09 1)" font-size="15" text-anchor="start" font-weight="bold" fill="#000" >(g)</text>
<text transform="translate(48.30 658.00) scale(1.09 1)" font-size="15" text-anchor="start" font-weight="bold" fill="#000" >(d)</text>
<text transform="translate(346.00 666.30) scale(1.09 1)" font-size="15" text-anchor="start" font-weight="bold" fill="#000" >(h)</text>
<text transform="translate(58.50 45.30) scale(1.1 1)" font-size="11.2" text-anchor="middle" font-weight="normal" fill="#000" >NW</text>
<text transform="translate(244.60 39.60) scale(1.1 1)" font-size="11.2" text-anchor="middle" font-weight="normal" fill="#000" >SE</text>
<text transform="translate(355.30 80.50) scale(1.1 1)" font-size="11.2" text-anchor="middle" font-weight="normal" fill="#000" >SW</text>
<text transform="translate(519.80 24.80) scale(1.1 1)" font-size="11.2" text-anchor="middle" font-weight="normal" fill="#000" >NE</text>
<defs><linearGradient id="cb2" x1="0" x2="1" y1="0" y2="0"><stop offset="0.0000" stop-color="#440a52"/><stop offset="0.0330" stop-color="#3c1e8c"/><stop offset="0.0670" stop-color="#3232be"/><stop offset="0.1000" stop-color="#2d50dc"/><stop offset="0.1200" stop-color="#2864e8"/><stop offset="0.1670" stop-color="#0a8cfa"/><stop offset="0.2400" stop-color="#00b9f8"/><stop offset="0.2900" stop-color="#00d7d7"/><stop offset="0.3330" stop-color="#00e6aa"/><stop offset="0.3600" stop-color="#00ec96"/><stop offset="0.4200" stop-color="#00f564"/><stop offset="0.4700" stop-color="#00fa2d"/><stop offset="0.4800" stop-color="#3cfa23"/><stop offset="0.5000" stop-color="#82f80f"/><stop offset="0.5400" stop-color="#aaf500"/><stop offset="0.5820" stop-color="#e1e40a"/><stop offset="0.6030" stop-color="#fad714"/><stop offset="0.6400" stop-color="#fcc81e"/><stop offset="0.6670" stop-color="#fdaf1e"/><stop offset="0.7020" stop-color="#fd9b19"/><stop offset="0.7620" stop-color="#fd730a"/><stop offset="0.8220" stop-color="#fa5005"/><stop offset="0.8830" stop-color="#eb2305"/><stop offset="0.9330" stop-color="#c80f05"/><stop offset="1.0000" stop-color="#82000a"/></linearGradient></defs>
<rect x="39.6" y="668" width="502.79999999999995" height="12.600000000000023" fill="url(#cb2)" stroke="#262626" stroke-width="0.5" stroke-opacity="0.55"/>
<line x1="39.60" x2="39.60" y1="675.6" y2="680.6" stroke="#262626" stroke-width="0.6"/>
<text transform="translate(39.60 696.50) scale(1.08 1)" font-size="10" text-anchor="middle" font-weight="normal" fill="#262626" >-2</text>
<line x1="89.88" x2="89.88" y1="675.6" y2="680.6" stroke="#262626" stroke-width="0.6"/>
<text transform="translate(89.88 696.50) scale(1.08 1)" font-size="10" text-anchor="middle" font-weight="normal" fill="#262626" >-1.5</text>
<line x1="140.16" x2="140.16" y1="675.6" y2="680.6" stroke="#262626" stroke-width="0.6"/>
<text transform="translate(140.16 696.50) scale(1.08 1)" font-size="10" text-anchor="middle" font-weight="normal" fill="#262626" >-1</text>
<line x1="190.44" x2="190.44" y1="675.6" y2="680.6" stroke="#262626" stroke-width="0.6"/>
<text transform="translate(190.44 696.50) scale(1.08 1)" font-size="10" text-anchor="middle" font-weight="normal" fill="#262626" >-0.5</text>
<line x1="240.72" x2="240.72" y1="675.6" y2="680.6" stroke="#262626" stroke-width="0.6"/>
<text transform="translate(240.72 696.50) scale(1.08 1)" font-size="10" text-anchor="middle" font-weight="normal" fill="#262626" >0</text>
<line x1="291.00" x2="291.00" y1="675.6" y2="680.6" stroke="#262626" stroke-width="0.6"/>
<text transform="translate(291.00 696.50) scale(1.08 1)" font-size="10" text-anchor="middle" font-weight="normal" fill="#262626" >0.5</text>
<line x1="341.28" x2="341.28" y1="675.6" y2="680.6" stroke="#262626" stroke-width="0.6"/>
<text transform="translate(341.28 696.50) scale(1.08 1)" font-size="10" text-anchor="middle" font-weight="normal" fill="#262626" >1</text>
<line x1="391.56" x2="391.56" y1="675.6" y2="680.6" stroke="#262626" stroke-width="0.6"/>
<text transform="translate(391.56 696.50) scale(1.08 1)" font-size="10" text-anchor="middle" font-weight="normal" fill="#262626" >1.5</text>
<line x1="441.84" x2="441.84" y1="675.6" y2="680.6" stroke="#262626" stroke-width="0.6"/>
<text transform="translate(441.84 696.50) scale(1.08 1)" font-size="10" text-anchor="middle" font-weight="normal" fill="#262626" >2</text>
<line x1="492.12" x2="492.12" y1="675.6" y2="680.6" stroke="#262626" stroke-width="0.6"/>
<text transform="translate(492.12 696.50) scale(1.08 1)" font-size="10" text-anchor="middle" font-weight="normal" fill="#262626" >2.5</text>
<line x1="542.40" x2="542.40" y1="675.6" y2="680.6" stroke="#262626" stroke-width="0.6"/>
<text transform="translate(542.40 696.50) scale(1.08 1)" font-size="10" text-anchor="middle" font-weight="normal" fill="#262626" >3</text>
<text transform="translate(291.2 712.6) scale(1.12 1)" font-size="10.5" text-anchor="middle" fill="#262626">log<tspan font-size="8.5" dy="4">10</tspan><tspan dy="-4" font-size="6"> </tspan><tspan font-style="italic" font-size="9">σ</tspan><tspan dy="-1">``</tspan><tspan dy="1"> (mS/m)</tspan></text>
</svg></body></html>
